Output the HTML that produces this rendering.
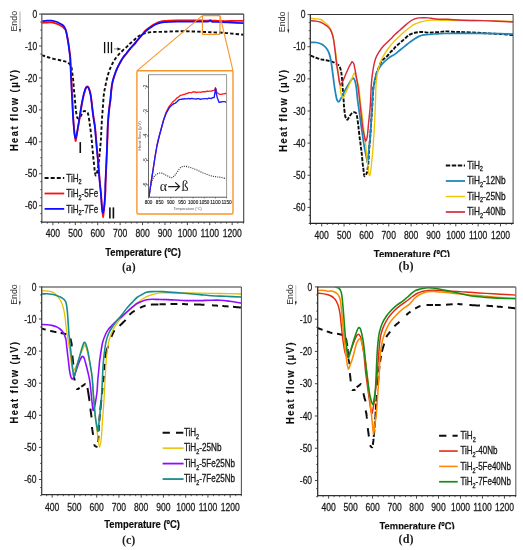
<!DOCTYPE html>
<html><head><meta charset="utf-8"><style>
html,body{margin:0;padding:0;background:#fff;}
svg{display:block;}
</style></head><body>
<svg width="523" height="550" viewBox="0 0 523 550">
<defs><filter id="soft" x="0" y="0" width="100%" height="100%"><feGaussianBlur stdDeviation="0.3"/></filter></defs>
<rect width="523" height="550" fill="#fff"/>
<g filter="url(#soft)">
<clipPath id="pa"><rect x="41.8" y="14.1" width="201.9" height="208"/></clipPath>
<path d="M41.8,55.2C42.72,55.5 45.33,56.4 47.3,57C49.27,57.6 51.48,58.27 53.6,58.8C55.72,59.33 58.27,59.8 60,60.2C61.73,60.6 62.93,60.93 64,61.2C65.07,61.47 65.65,61.5 66.4,61.8C67.15,62.1 67.83,62.47 68.5,63C69.17,63.53 69.9,64.25 70.4,65C70.9,65.75 71.2,66.33 71.5,67.5C71.8,68.67 71.98,70.42 72.2,72C72.42,73.58 72.58,75.13 72.8,77C73.02,78.87 73.3,80.95 73.5,83.2C73.7,85.45 73.83,88.68 74,90.5C74.17,92.32 74.35,92.68 74.5,94.1C74.65,95.52 74.75,97.1 74.9,99C75.05,100.9 75.23,103.67 75.4,105.5C75.57,107.33 75.73,108.58 75.9,110C76.07,111.42 76.18,112.77 76.4,114C76.62,115.23 76.92,116.65 77.2,117.4C77.48,118.15 77.8,118.33 78.1,118.5C78.4,118.67 78.55,118.83 79,118.4C79.45,117.97 80.05,117.07 80.8,115.9C81.55,114.73 82.73,112.18 83.5,111.4C84.27,110.62 84.77,111.1 85.4,111.2C86.03,111.3 86.82,111.37 87.3,112C87.78,112.63 87.93,113.37 88.3,115C88.67,116.63 89.23,120.05 89.5,121.8C89.77,123.55 89.68,123.83 89.9,125.5C90.12,127.17 90.57,129.93 90.8,131.8C91.03,133.67 91.15,135.33 91.3,136.7C91.45,138.07 91.55,138.53 91.7,140C91.85,141.47 92.05,143.83 92.2,145.5C92.35,147.17 92.43,148.18 92.6,150C92.77,151.82 93.03,154.58 93.2,156.4C93.37,158.22 93.45,159.55 93.6,160.9C93.75,162.25 93.95,163.13 94.1,164.5C94.25,165.87 94.35,167.88 94.5,169.1C94.65,170.32 94.82,170.77 95,171.8C95.18,172.83 95.35,174.85 95.6,175.3C95.85,175.75 96.13,175.55 96.5,174.5C96.87,173.45 97.45,170.92 97.8,169C98.15,167.08 98.33,165.17 98.6,163C98.87,160.83 99.17,158.17 99.4,156C99.63,153.83 99.82,151.92 100,150C100.18,148.08 100.35,146.17 100.5,144.5C100.65,142.83 100.8,141.5 100.9,140C101,138.5 101,137.5 101.1,135.5C101.2,133.5 101.37,130.58 101.5,128C101.63,125.42 101.75,122.5 101.9,120C102.05,117.5 102.22,115.42 102.4,113C102.58,110.58 102.8,108.17 103,105.5C103.2,102.83 103.38,99.33 103.6,97C103.82,94.67 103.98,93.42 104.3,91.5C104.62,89.58 105.05,87.67 105.5,85.5C105.95,83.33 106.42,80.82 107,78.5C107.58,76.18 108.27,73.75 109,71.6C109.73,69.45 110.5,67.52 111.4,65.6C112.3,63.68 113.25,61.87 114.4,60.1C115.55,58.33 116.92,56.6 118.3,55C119.68,53.4 121.17,51.98 122.7,50.5C124.23,49.02 126.28,47.25 127.5,46.1C128.72,44.95 128.95,44.55 130,43.6C131.05,42.65 132.53,41.52 133.8,40.4C135.07,39.28 136.32,37.85 137.6,36.9C138.88,35.95 140.22,35.33 141.5,34.7C142.78,34.07 144.03,33.48 145.3,33.1C146.57,32.72 147.83,32.58 149.1,32.4C150.37,32.22 151.62,32.08 152.9,32C154.18,31.92 155.52,31.92 156.8,31.9C158.08,31.88 159.33,31.92 160.6,31.9C161.87,31.88 162.83,31.87 164.4,31.8C165.97,31.73 167.8,31.58 170,31.5C172.2,31.42 175.05,31.33 177.6,31.3C180.15,31.27 182.75,31.27 185.3,31.3C187.85,31.33 190.35,31.43 192.9,31.5C195.45,31.57 198.58,31.62 200.6,31.7C202.62,31.78 203,31.9 205,32C207,32.1 209.42,32.17 212.6,32.3C215.78,32.43 220.9,32.58 224.1,32.8C227.3,33.02 229.25,33.35 231.8,33.6C234.35,33.85 237.42,34.1 239.4,34.3C241.38,34.5 242.98,34.72 243.7,34.8" fill="none" stroke="#111" stroke-width="1.9" stroke-linejoin="round" stroke-dasharray="3.4 2.1" clip-path="url(#pa)"/>
<path d="M41.8,22.9C42.42,22.85 43.98,22.68 45.5,22.6C47.02,22.52 49.23,22.28 50.9,22.4C52.57,22.52 54.13,22.92 55.5,23.3C56.87,23.68 57.97,24.17 59.1,24.7C60.23,25.23 61.47,25.9 62.3,26.5C63.13,27.1 63.51,27.67 64.1,28.3C64.69,28.93 65.41,29.37 65.85,30.3C66.29,31.23 66.45,32.53 66.75,33.9C67.05,35.27 67.35,36.83 67.65,38.5C67.95,40.17 68.25,41.93 68.55,43.9C68.85,45.87 69.15,48.03 69.45,50.3C69.75,52.57 70.13,55.03 70.35,57.5C70.57,59.97 70.64,62.48 70.75,65.1C70.86,67.72 70.88,70.33 71,73.2C71.12,76.07 71.35,79.27 71.5,82.3C71.65,85.33 71.75,88.45 71.9,91.4C72.05,94.35 72.25,97.05 72.4,100C72.55,102.95 72.65,106.07 72.8,109.1C72.95,112.13 73.1,115.17 73.3,118.2C73.5,121.23 73.77,124.58 74,127.3C74.23,130.02 74.43,132.22 74.7,134.5C74.97,136.78 75.3,140.68 75.6,141C75.9,141.32 76.13,138.38 76.5,136.4C76.87,134.42 77.35,131.68 77.8,129.1C78.25,126.52 78.73,123.78 79.2,120.9C79.67,118.02 80.15,114.62 80.6,111.8C81.05,108.98 81.47,106.38 81.9,104C82.33,101.62 82.82,99.3 83.2,97.5C83.58,95.7 83.73,94.83 84.2,93.2C84.67,91.57 85.47,88.83 86,87.7C86.53,86.57 86.95,86.4 87.4,86.4C87.85,86.4 88.17,86.42 88.7,87.7C89.23,88.98 90.1,91.72 90.6,94.1C91.1,96.48 91.38,99.5 91.7,102C92.02,104.5 92.17,106.4 92.5,109.1C92.83,111.8 93.27,115.17 93.7,118.2C94.13,121.23 94.7,123.83 95.1,127.3C95.5,130.77 95.78,135.38 96.1,139C96.42,142.62 96.7,145.8 97,149C97.3,152.2 97.62,155.15 97.9,158.2C98.18,161.25 98.45,164.27 98.7,167.3C98.95,170.33 99.15,173.37 99.4,176.4C99.65,179.43 99.93,182.73 100.2,185.5C100.47,188.27 100.75,190.1 101,193C101.25,195.9 101.47,199.98 101.7,202.9C101.93,205.82 102.17,208.08 102.4,210.5C102.63,212.92 102.85,217.4 103.1,217.4C103.35,217.4 103.63,212.92 103.9,210.5C104.17,208.08 104.45,205.98 104.7,202.9C104.95,199.82 105.27,194.9 105.4,192C105.53,189.1 105.42,188.1 105.5,185.5C105.58,182.9 105.77,179.43 105.9,176.4C106.03,173.37 106.17,170.33 106.3,167.3C106.43,164.27 106.57,161.23 106.7,158.2C106.83,155.17 106.98,152.13 107.1,149.1C107.22,146.07 107.32,142.27 107.4,140C107.48,137.73 107.52,137.77 107.6,135.5C107.68,133.23 107.75,129.43 107.9,126.4C108.05,123.37 108.25,120.33 108.5,117.3C108.75,114.27 109.05,111.23 109.4,108.2C109.75,105.17 110.28,101.97 110.6,99.1C110.92,96.23 110.98,93.75 111.3,91C111.62,88.25 111.98,85.1 112.5,82.6C113.02,80.1 113.68,78.22 114.4,76C115.12,73.78 115.93,71.35 116.8,69.3C117.67,67.25 118.58,65.58 119.6,63.7C120.62,61.82 121.72,59.75 122.9,58C124.08,56.25 125.47,54.77 126.7,53.2C127.93,51.63 129.08,50.03 130.3,48.6C131.52,47.17 132.75,46.03 134,44.6C135.25,43.17 136.52,41.53 137.8,40C139.08,38.47 140.45,36.95 141.7,35.4C142.95,33.85 144.07,32 145.3,30.7C146.53,29.4 147.83,28.55 149.1,27.6C150.37,26.65 151.62,25.77 152.9,25C154.18,24.23 155.52,23.57 156.8,23C158.08,22.43 159.33,21.95 160.6,21.6C161.87,21.25 162.83,21.07 164.4,20.9C165.97,20.73 167.8,20.68 170,20.6C172.2,20.52 175.05,20.43 177.6,20.4C180.15,20.37 182.75,20.4 185.3,20.4C187.85,20.4 190.35,20.4 192.9,20.4C195.45,20.4 198.58,20.35 200.6,20.4C202.62,20.45 203.43,20.68 205,20.7C206.57,20.72 208.67,20.52 210,20.5C211.33,20.48 211.28,20.52 213,20.6C214.72,20.68 217.17,20.93 220.3,21C223.43,21.07 227.9,21.03 231.8,21C235.7,20.97 241.72,20.83 243.7,20.8" fill="none" stroke="#ff0d0d" stroke-width="1.8" stroke-linejoin="round" clip-path="url(#pa)"/>
<path d="M41.8,21.1C42.42,21.05 43.98,20.88 45.5,20.8C47.02,20.72 49.23,20.48 50.9,20.6C52.57,20.72 54.13,21.12 55.5,21.5C56.87,21.88 57.97,22.37 59.1,22.9C60.23,23.43 61.47,24.1 62.3,24.7C63.13,25.3 63.57,25.73 64.1,26.5C64.63,27.27 65.12,28.23 65.5,29.3C65.88,30.37 66.1,31.53 66.4,32.9C66.7,34.27 67,35.83 67.3,37.5C67.6,39.17 67.9,40.93 68.2,42.9C68.5,44.87 68.8,47.03 69.1,49.3C69.4,51.57 69.78,54.03 70,56.5C70.22,58.97 70.27,61.32 70.4,64.1C70.53,66.88 70.65,70.17 70.8,73.2C70.95,76.23 71.15,79.27 71.3,82.3C71.45,85.33 71.55,88.45 71.7,91.4C71.85,94.35 72.05,97.05 72.2,100C72.35,102.95 72.45,106.07 72.6,109.1C72.75,112.13 72.9,115.17 73.1,118.2C73.3,121.23 73.57,124.58 73.8,127.3C74.03,130.02 74.23,132.68 74.5,134.5C74.77,136.32 75.1,137.88 75.4,138.2C75.7,138.52 75.93,137.92 76.3,136.4C76.67,134.88 77.15,131.68 77.6,129.1C78.05,126.52 78.53,123.78 79,120.9C79.47,118.02 79.95,114.62 80.4,111.8C80.85,108.98 81.27,106.38 81.7,104C82.13,101.62 82.62,99.3 83,97.5C83.38,95.7 83.53,94.78 84,93.2C84.47,91.62 85.27,89.05 85.8,88C86.33,86.95 86.75,86.9 87.2,86.9C87.65,86.9 87.97,86.8 88.5,88C89.03,89.2 89.9,91.77 90.4,94.1C90.9,96.43 91.18,99.5 91.5,102C91.82,104.5 91.97,106.4 92.3,109.1C92.63,111.8 93.07,115.17 93.5,118.2C93.93,121.23 94.5,123.83 94.9,127.3C95.3,130.77 95.58,135.38 95.9,139C96.22,142.62 96.5,145.8 96.8,149C97.1,152.2 97.42,155.15 97.7,158.2C97.98,161.25 98.25,164.27 98.5,167.3C98.75,170.33 98.95,173.37 99.2,176.4C99.45,179.43 99.73,182.73 100,185.5C100.27,188.27 100.55,190.1 100.8,193C101.05,195.9 101.27,199.98 101.5,202.9C101.73,205.82 101.97,208.78 102.2,210.5C102.43,212.22 102.65,213.2 102.9,213.2C103.15,213.2 103.43,212.22 103.7,210.5C103.97,208.78 104.25,205.98 104.5,202.9C104.75,199.82 105.07,194.9 105.2,192C105.33,189.1 105.22,188.1 105.3,185.5C105.38,182.9 105.57,179.43 105.7,176.4C105.83,173.37 105.97,170.33 106.1,167.3C106.23,164.27 106.37,161.23 106.5,158.2C106.63,155.17 106.78,152.13 106.9,149.1C107.02,146.07 107.12,142.27 107.2,140C107.28,137.73 107.32,137.77 107.4,135.5C107.48,133.23 107.55,129.43 107.7,126.4C107.85,123.37 108.05,120.33 108.3,117.3C108.55,114.27 108.85,111.23 109.2,108.2C109.55,105.17 110.08,101.97 110.4,99.1C110.72,96.23 110.78,93.75 111.1,91C111.42,88.25 111.78,85.1 112.3,82.6C112.82,80.1 113.48,78.22 114.2,76C114.92,73.78 115.73,71.35 116.6,69.3C117.47,67.25 118.38,65.58 119.4,63.7C120.42,61.82 121.52,59.75 122.7,58C123.88,56.25 125.27,54.77 126.5,53.2C127.73,51.63 128.88,50.03 130.1,48.6C131.32,47.17 132.55,46.03 133.8,44.6C135.05,43.17 136.32,41.53 137.6,40C138.88,38.47 140.22,36.8 141.5,35.4C142.78,34 144.03,32.75 145.3,31.6C146.57,30.45 147.83,29.45 149.1,28.5C150.37,27.55 151.62,26.67 152.9,25.9C154.18,25.13 155.52,24.42 156.8,23.9C158.08,23.38 159.33,23.1 160.6,22.8C161.87,22.5 162.83,22.27 164.4,22.1C165.97,21.93 167.8,21.88 170,21.8C172.2,21.72 175.05,21.63 177.6,21.6C180.15,21.57 182.75,21.6 185.3,21.6C187.85,21.6 190.35,21.6 192.9,21.6C195.45,21.6 198.58,21.58 200.6,21.6C202.62,21.62 203.63,21.75 205,21.7C206.37,21.65 207.9,21.52 208.8,21.3C209.7,21.08 209.82,20.32 210.4,20.4C210.98,20.48 210.65,21.52 212.3,21.8C213.95,22.08 217.05,21.97 220.3,22.1C223.55,22.23 227.9,22.43 231.8,22.6C235.7,22.77 241.72,23.02 243.7,23.1" fill="none" stroke="#1010ff" stroke-width="1.7" stroke-linejoin="round" clip-path="url(#pa)"/>
<line x1="41.8" y1="14.1" x2="243.7" y2="14.1" stroke="#6c6c6c" stroke-width="1.6"/>
<line x1="243.7" y1="14.1" x2="243.7" y2="222.1" stroke="#444" stroke-width="1.1"/>
<line x1="41.8" y1="13.6" x2="41.8" y2="222.6" stroke="#777" stroke-width="1.5"/>
<line x1="41.3" y1="222.1" x2="244.2" y2="222.1" stroke="#333" stroke-width="1.1"/>
<line x1="39" y1="14.1" x2="41.8" y2="14.1" stroke="#333" stroke-width="0.9"/>
<line x1="40.2" y1="22.08" x2="41.8" y2="22.08" stroke="#333" stroke-width="0.8"/>
<line x1="40.2" y1="30.06" x2="41.8" y2="30.06" stroke="#333" stroke-width="0.8"/>
<line x1="40.2" y1="38.05" x2="41.8" y2="38.05" stroke="#333" stroke-width="0.8"/>
<line x1="39" y1="46.03" x2="41.8" y2="46.03" stroke="#333" stroke-width="0.9"/>
<line x1="40.2" y1="54.01" x2="41.8" y2="54.01" stroke="#333" stroke-width="0.8"/>
<line x1="40.2" y1="62" x2="41.8" y2="62" stroke="#333" stroke-width="0.8"/>
<line x1="40.2" y1="69.98" x2="41.8" y2="69.98" stroke="#333" stroke-width="0.8"/>
<line x1="39" y1="77.96" x2="41.8" y2="77.96" stroke="#333" stroke-width="0.9"/>
<line x1="40.2" y1="85.94" x2="41.8" y2="85.94" stroke="#333" stroke-width="0.8"/>
<line x1="40.2" y1="93.92" x2="41.8" y2="93.92" stroke="#333" stroke-width="0.8"/>
<line x1="40.2" y1="101.91" x2="41.8" y2="101.91" stroke="#333" stroke-width="0.8"/>
<line x1="39" y1="109.89" x2="41.8" y2="109.89" stroke="#333" stroke-width="0.9"/>
<line x1="40.2" y1="117.87" x2="41.8" y2="117.87" stroke="#333" stroke-width="0.8"/>
<line x1="40.2" y1="125.85" x2="41.8" y2="125.85" stroke="#333" stroke-width="0.8"/>
<line x1="40.2" y1="133.84" x2="41.8" y2="133.84" stroke="#333" stroke-width="0.8"/>
<line x1="39" y1="141.82" x2="41.8" y2="141.82" stroke="#333" stroke-width="0.9"/>
<line x1="40.2" y1="149.8" x2="41.8" y2="149.8" stroke="#333" stroke-width="0.8"/>
<line x1="40.2" y1="157.78" x2="41.8" y2="157.78" stroke="#333" stroke-width="0.8"/>
<line x1="40.2" y1="165.77" x2="41.8" y2="165.77" stroke="#333" stroke-width="0.8"/>
<line x1="39" y1="173.75" x2="41.8" y2="173.75" stroke="#333" stroke-width="0.9"/>
<line x1="40.2" y1="181.73" x2="41.8" y2="181.73" stroke="#333" stroke-width="0.8"/>
<line x1="40.2" y1="189.72" x2="41.8" y2="189.72" stroke="#333" stroke-width="0.8"/>
<line x1="40.2" y1="197.7" x2="41.8" y2="197.7" stroke="#333" stroke-width="0.8"/>
<line x1="39" y1="205.68" x2="41.8" y2="205.68" stroke="#333" stroke-width="0.9"/>
<line x1="40.2" y1="213.66" x2="41.8" y2="213.66" stroke="#333" stroke-width="0.8"/>
<line x1="40.2" y1="221.65" x2="41.8" y2="221.65" stroke="#333" stroke-width="0.8"/>
<text transform="translate(37.2,17.7) scale(0.85,1)" font-family="Liberation Sans" font-size="10" font-weight="normal" text-anchor="end" fill="#1a1a1a" stroke="#1a1a1a" stroke-width="0.26">0</text>
<text transform="translate(37.2,49.63) scale(0.85,1)" font-family="Liberation Sans" font-size="10" font-weight="normal" text-anchor="end" fill="#1a1a1a" stroke="#1a1a1a" stroke-width="0.26">-10</text>
<text transform="translate(37.2,81.56) scale(0.85,1)" font-family="Liberation Sans" font-size="10" font-weight="normal" text-anchor="end" fill="#1a1a1a" stroke="#1a1a1a" stroke-width="0.26">-20</text>
<text transform="translate(37.2,113.49) scale(0.85,1)" font-family="Liberation Sans" font-size="10" font-weight="normal" text-anchor="end" fill="#1a1a1a" stroke="#1a1a1a" stroke-width="0.26">-30</text>
<text transform="translate(37.2,145.42) scale(0.85,1)" font-family="Liberation Sans" font-size="10" font-weight="normal" text-anchor="end" fill="#1a1a1a" stroke="#1a1a1a" stroke-width="0.26">-40</text>
<text transform="translate(37.2,177.35) scale(0.85,1)" font-family="Liberation Sans" font-size="10" font-weight="normal" text-anchor="end" fill="#1a1a1a" stroke="#1a1a1a" stroke-width="0.26">-50</text>
<text transform="translate(37.2,209.28) scale(0.85,1)" font-family="Liberation Sans" font-size="10" font-weight="normal" text-anchor="end" fill="#1a1a1a" stroke="#1a1a1a" stroke-width="0.26">-60</text>
<line x1="41.7" y1="222.1" x2="41.7" y2="223.7" stroke="#333" stroke-width="0.8"/>
<line x1="47.3" y1="222.1" x2="47.3" y2="223.7" stroke="#333" stroke-width="0.8"/>
<line x1="52.9" y1="222.1" x2="52.9" y2="225.1" stroke="#333" stroke-width="0.9"/>
<line x1="58.5" y1="222.1" x2="58.5" y2="223.7" stroke="#333" stroke-width="0.8"/>
<line x1="64.11" y1="222.1" x2="64.11" y2="223.7" stroke="#333" stroke-width="0.8"/>
<line x1="69.71" y1="222.1" x2="69.71" y2="223.7" stroke="#333" stroke-width="0.8"/>
<line x1="75.31" y1="222.1" x2="75.31" y2="225.1" stroke="#333" stroke-width="0.9"/>
<line x1="80.91" y1="222.1" x2="80.91" y2="223.7" stroke="#333" stroke-width="0.8"/>
<line x1="86.52" y1="222.1" x2="86.52" y2="223.7" stroke="#333" stroke-width="0.8"/>
<line x1="92.12" y1="222.1" x2="92.12" y2="223.7" stroke="#333" stroke-width="0.8"/>
<line x1="97.72" y1="222.1" x2="97.72" y2="225.1" stroke="#333" stroke-width="0.9"/>
<line x1="103.32" y1="222.1" x2="103.32" y2="223.7" stroke="#333" stroke-width="0.8"/>
<line x1="108.92" y1="222.1" x2="108.92" y2="223.7" stroke="#333" stroke-width="0.8"/>
<line x1="114.53" y1="222.1" x2="114.53" y2="223.7" stroke="#333" stroke-width="0.8"/>
<line x1="120.13" y1="222.1" x2="120.13" y2="225.1" stroke="#333" stroke-width="0.9"/>
<line x1="125.73" y1="222.1" x2="125.73" y2="223.7" stroke="#333" stroke-width="0.8"/>
<line x1="131.34" y1="222.1" x2="131.34" y2="223.7" stroke="#333" stroke-width="0.8"/>
<line x1="136.94" y1="222.1" x2="136.94" y2="223.7" stroke="#333" stroke-width="0.8"/>
<line x1="142.54" y1="222.1" x2="142.54" y2="225.1" stroke="#333" stroke-width="0.9"/>
<line x1="148.14" y1="222.1" x2="148.14" y2="223.7" stroke="#333" stroke-width="0.8"/>
<line x1="153.75" y1="222.1" x2="153.75" y2="223.7" stroke="#333" stroke-width="0.8"/>
<line x1="159.35" y1="222.1" x2="159.35" y2="223.7" stroke="#333" stroke-width="0.8"/>
<line x1="164.95" y1="222.1" x2="164.95" y2="225.1" stroke="#333" stroke-width="0.9"/>
<line x1="170.55" y1="222.1" x2="170.55" y2="223.7" stroke="#333" stroke-width="0.8"/>
<line x1="176.16" y1="222.1" x2="176.16" y2="223.7" stroke="#333" stroke-width="0.8"/>
<line x1="181.76" y1="222.1" x2="181.76" y2="223.7" stroke="#333" stroke-width="0.8"/>
<line x1="187.36" y1="222.1" x2="187.36" y2="225.1" stroke="#333" stroke-width="0.9"/>
<line x1="192.96" y1="222.1" x2="192.96" y2="223.7" stroke="#333" stroke-width="0.8"/>
<line x1="198.56" y1="222.1" x2="198.56" y2="223.7" stroke="#333" stroke-width="0.8"/>
<line x1="204.17" y1="222.1" x2="204.17" y2="223.7" stroke="#333" stroke-width="0.8"/>
<line x1="209.77" y1="222.1" x2="209.77" y2="225.1" stroke="#333" stroke-width="0.9"/>
<line x1="215.37" y1="222.1" x2="215.37" y2="223.7" stroke="#333" stroke-width="0.8"/>
<line x1="220.97" y1="222.1" x2="220.97" y2="223.7" stroke="#333" stroke-width="0.8"/>
<line x1="226.58" y1="222.1" x2="226.58" y2="223.7" stroke="#333" stroke-width="0.8"/>
<line x1="232.18" y1="222.1" x2="232.18" y2="225.1" stroke="#333" stroke-width="0.9"/>
<line x1="237.78" y1="222.1" x2="237.78" y2="223.7" stroke="#333" stroke-width="0.8"/>
<line x1="243.38" y1="222.1" x2="243.38" y2="223.7" stroke="#333" stroke-width="0.8"/>
<text transform="translate(52.9,236.7) scale(0.86,1)" font-family="Liberation Sans" font-size="10" font-weight="normal" text-anchor="middle" fill="#1a1a1a" stroke="#1a1a1a" stroke-width="0.26">400</text>
<text transform="translate(75.31,236.7) scale(0.86,1)" font-family="Liberation Sans" font-size="10" font-weight="normal" text-anchor="middle" fill="#1a1a1a" stroke="#1a1a1a" stroke-width="0.26">500</text>
<text transform="translate(97.72,236.7) scale(0.86,1)" font-family="Liberation Sans" font-size="10" font-weight="normal" text-anchor="middle" fill="#1a1a1a" stroke="#1a1a1a" stroke-width="0.26">600</text>
<text transform="translate(120.13,236.7) scale(0.86,1)" font-family="Liberation Sans" font-size="10" font-weight="normal" text-anchor="middle" fill="#1a1a1a" stroke="#1a1a1a" stroke-width="0.26">700</text>
<text transform="translate(142.54,236.7) scale(0.86,1)" font-family="Liberation Sans" font-size="10" font-weight="normal" text-anchor="middle" fill="#1a1a1a" stroke="#1a1a1a" stroke-width="0.26">800</text>
<text transform="translate(164.95,236.7) scale(0.86,1)" font-family="Liberation Sans" font-size="10" font-weight="normal" text-anchor="middle" fill="#1a1a1a" stroke="#1a1a1a" stroke-width="0.26">900</text>
<text transform="translate(187.36,236.7) scale(0.86,1)" font-family="Liberation Sans" font-size="10" font-weight="normal" text-anchor="middle" fill="#1a1a1a" stroke="#1a1a1a" stroke-width="0.26">1000</text>
<text transform="translate(209.77,236.7) scale(0.86,1)" font-family="Liberation Sans" font-size="10" font-weight="normal" text-anchor="middle" fill="#1a1a1a" stroke="#1a1a1a" stroke-width="0.26">1100</text>
<text transform="translate(232.18,236.7) scale(0.86,1)" font-family="Liberation Sans" font-size="10" font-weight="normal" text-anchor="middle" fill="#1a1a1a" stroke="#1a1a1a" stroke-width="0.26">1200</text>
<clipPath id="pb"><rect x="310.3" y="14.5" width="202.8" height="208.9"/></clipPath>
<path d="M310.7,55.6C311.47,55.92 313.63,56.88 315.3,57.5C316.97,58.12 318.88,58.85 320.7,59.3C322.52,59.75 324.23,59.78 326.2,60.2C328.17,60.62 331,61.3 332.5,61.8C334,62.3 334.37,62.75 335.2,63.2C336.03,63.65 336.77,63.95 337.5,64.5C338.23,65.05 339,65.33 339.6,66.5C340.2,67.67 340.68,69.33 341.1,71.5C341.52,73.67 341.82,76.5 342.1,79.5C342.38,82.5 342.58,86.75 342.8,89.5C343.02,92.25 343.23,93.8 343.4,96C343.57,98.2 343.68,100.82 343.8,102.7C343.92,104.58 343.95,105.67 344.1,107.3C344.25,108.93 344.5,110.98 344.7,112.5C344.9,114.02 345,115.32 345.3,116.4C345.6,117.48 346.1,118.48 346.5,119C346.9,119.52 347.2,119.93 347.7,119.5C348.2,119.07 348.73,117.53 349.5,116.4C350.27,115.27 351.47,113.38 352.3,112.7C353.13,112.02 353.83,112.18 354.5,112.3C355.17,112.42 355.83,112.42 356.3,113.4C356.77,114.38 356.98,116.35 357.3,118.2C357.62,120.05 357.98,122.83 358.2,124.5C358.42,126.17 358.38,126.22 358.6,128.2C358.82,130.18 359.2,133.93 359.5,136.4C359.8,138.87 360.12,140.83 360.4,143C360.68,145.17 360.95,147.4 361.2,149.4C361.45,151.4 361.67,152.73 361.9,155C362.13,157.27 362.35,160.67 362.6,163C362.85,165.33 363.17,167.17 363.4,169C363.63,170.83 363.8,172.78 364,174C364.2,175.22 364.22,176.27 364.6,176.3C364.98,176.33 365.83,175.17 366.3,174.2C366.77,173.23 367.05,172.57 367.4,170.5C367.75,168.43 368.12,165.22 368.4,161.8C368.68,158.38 368.8,154.13 369.1,150C369.4,145.87 369.83,142 370.2,137C370.57,132 370.93,125.5 371.3,120C371.67,114.5 372.07,109.3 372.4,104C372.73,98.7 372.77,92.4 373.3,88.2C373.83,84 375.02,81.37 375.6,78.8C376.18,76.23 376.3,74.58 376.8,72.8C377.3,71.02 378,69.67 378.6,68.1C379.2,66.53 379.72,64.78 380.4,63.4C381.08,62.02 381.82,60.78 382.7,59.8C383.58,58.82 384.72,58.38 385.7,57.5C386.68,56.62 387.72,55.48 388.6,54.5C389.48,53.52 390.2,52.38 391,51.6C391.8,50.82 392.73,50.5 393.4,49.8C394.07,49.1 393.93,48.52 395,47.4C396.07,46.28 398.2,44.53 399.8,43.1C401.4,41.67 403.02,40.17 404.6,38.8C406.18,37.43 407.72,35.87 409.3,34.9C410.88,33.93 412.5,33.47 414.1,33C415.7,32.53 417.3,32.25 418.9,32.1C420.5,31.95 422.1,32.02 423.7,32.1C425.3,32.18 426.92,32.55 428.5,32.6C430.08,32.65 431.62,32.48 433.2,32.4C434.78,32.32 436.4,32.23 438,32.1C439.6,31.97 441.38,31.72 442.8,31.6C444.22,31.48 444.3,31.33 446.5,31.4C448.7,31.47 453.25,31.88 456,32C458.75,32.12 459.67,32 463,32.1C466.33,32.2 472.17,32.4 476,32.6C479.83,32.8 482,33.07 486,33.3C490,33.53 495.48,33.72 500,34C504.52,34.28 510.92,34.83 513.1,35" fill="none" stroke="#111" stroke-width="1.9" stroke-linejoin="round" stroke-dasharray="3.8 1.5" clip-path="url(#pb)"/>
<path d="M310.7,42.5C311.62,42.5 314.53,42.28 316.2,42.5C317.87,42.72 319.33,43.2 320.7,43.8C322.07,44.4 323.33,45.18 324.4,46.1C325.47,47.02 326.35,48.17 327.1,49.3C327.85,50.43 328.37,51.53 328.9,52.9C329.43,54.27 329.92,55.98 330.3,57.5C330.68,59.02 330.8,59.38 331.2,62C331.6,64.62 332.15,69.07 332.7,73.2C333.25,77.33 333.88,82.72 334.5,86.8C335.12,90.88 335.9,95.37 336.4,97.7C336.9,100.03 337.13,100.12 337.5,100.8C337.87,101.48 338.22,101.83 338.6,101.8C338.98,101.77 339.42,101.13 339.8,100.6C340.18,100.07 340.12,100.13 340.9,98.6C341.68,97.07 343.28,93.67 344.5,91.4C345.72,89.13 347.13,86.82 348.2,85C349.27,83.18 350.07,81.65 350.9,80.5C351.73,79.35 352.57,78.17 353.2,78.1C353.83,78.03 354.3,79.18 354.7,80.1C355.1,81.02 355.32,82.25 355.6,83.6C355.88,84.95 356.07,85.47 356.4,88.2C356.73,90.93 357.17,96.37 357.6,100C358.03,103.63 358.58,107 359,110C359.42,113 359.72,115.17 360.1,118C360.48,120.83 360.87,123.93 361.3,127C361.73,130.07 362.18,133.02 362.7,136.4C363.22,139.78 363.87,144.28 364.4,147.3C364.93,150.32 365.47,152.33 365.9,154.5C366.33,156.67 366.73,158.97 367,160.3C367.27,161.63 367.32,162.85 367.5,162.5C367.68,162.15 367.85,160.62 368.1,158.2C368.35,155.78 368.65,151.53 369,148C369.35,144.47 369.82,141.67 370.2,137C370.58,132.33 370.93,126.17 371.3,120C371.67,113.83 371.97,105.88 372.4,100C372.83,94.12 373.27,89.03 373.9,84.7C374.53,80.37 375.32,76.77 376.2,74C377.08,71.23 378.12,69.87 379.2,68.1C380.28,66.33 381.13,65.07 382.7,63.4C384.27,61.73 386.55,59.65 388.6,58.1C390.65,56.55 393.13,55.42 395,54.1C396.87,52.78 398.2,51.48 399.8,50.2C401.4,48.92 403.02,47.67 404.6,46.4C406.18,45.13 407.72,43.8 409.3,42.6C410.88,41.4 412.5,40.23 414.1,39.2C415.7,38.17 417.3,37.12 418.9,36.4C420.5,35.68 422.1,35.22 423.7,34.9C425.3,34.58 426.92,34.65 428.5,34.5C430.08,34.35 431.62,34.12 433.2,34C434.78,33.88 436.03,33.88 438,33.8C439.97,33.72 440.83,33.58 445,33.5C449.17,33.42 456.17,33.33 463,33.3C469.83,33.27 479.83,33.23 486,33.3C492.17,33.37 495.48,33.55 500,33.7C504.52,33.85 510.92,34.12 513.1,34.2" fill="none" stroke="#1f87bd" stroke-width="1.75" stroke-linejoin="round" clip-path="url(#pb)"/>
<path d="M310.7,18.4C311.62,18.47 314.53,18.62 316.2,18.8C317.87,18.98 319.33,18.97 320.7,19.5C322.07,20.03 323.27,21.13 324.4,22C325.53,22.87 326.6,23.78 327.5,24.7C328.4,25.62 329.12,26.37 329.8,27.5C330.48,28.63 331.05,30 331.6,31.5C332.15,33 332.67,34.58 333.1,36.5C333.53,38.42 333.83,40.72 334.2,43C334.57,45.28 334.9,47.48 335.3,50.2C335.7,52.92 336.22,56.23 336.6,59.3C336.98,62.37 337.25,65.82 337.6,68.6C337.95,71.38 338.38,73.72 338.7,76C339.02,78.28 339.23,80.22 339.5,82.3C339.77,84.38 340.07,86.68 340.3,88.5C340.53,90.32 340.65,91.87 340.9,93.2C341.15,94.53 341.5,95.75 341.8,96.5C342.1,97.25 342.33,97.78 342.7,97.7C343.07,97.62 343.53,96.75 344,96C344.47,95.25 344.65,95.03 345.5,93.2C346.35,91.37 347.9,87.77 349.1,85C350.3,82.23 351.82,78.63 352.7,76.6C353.58,74.57 353.92,72.9 354.4,72.8C354.88,72.7 355.22,74.88 355.6,76C355.98,77.12 356.32,78.23 356.7,79.5C357.08,80.77 357.52,82.15 357.9,83.6C358.28,85.05 358.62,85.47 359,88.2C359.38,90.93 359.8,96.37 360.2,100C360.6,103.63 361.02,107 361.4,110C361.78,113 362.15,115.12 362.5,118C362.85,120.88 363.15,124.13 363.5,127.3C363.85,130.47 364.28,134.52 364.6,137C364.92,139.48 365.13,139.87 365.4,142.2C365.67,144.53 365.87,147.73 366.2,151C366.53,154.27 367.03,158.55 367.4,161.8C367.77,165.05 368.05,168.2 368.4,170.5C368.75,172.8 369.13,175.35 369.5,175.6C369.87,175.85 370.23,174.3 370.6,172C370.97,169.7 371.33,165.32 371.7,161.8C372.07,158.28 372.5,154.53 372.8,150.9C373.1,147.27 373.28,143.18 373.5,140C373.72,136.82 373.85,136.2 374.1,131.8C374.35,127.4 374.77,118.9 375,113.6C375.23,108.3 375.3,105.22 375.5,100C375.7,94.78 375.78,87.22 376.2,82.3C376.62,77.38 377.3,73.85 378,70.5C378.7,67.15 379.42,64.77 380.4,62.2C381.38,59.63 382.53,57.47 383.9,55.1C385.27,52.73 386.82,50.37 388.6,48C390.38,45.63 392.73,42.92 394.6,40.9C396.47,38.88 398.13,37.45 399.8,35.9C401.47,34.35 403.02,32.95 404.6,31.6C406.18,30.25 407.72,29 409.3,27.8C410.88,26.6 412.5,25.28 414.1,24.4C415.7,23.52 417.3,23.02 418.9,22.5C420.5,21.98 422.1,21.65 423.7,21.3C425.3,20.95 426.92,20.6 428.5,20.4C430.08,20.2 431.62,20.15 433.2,20.1C434.78,20.05 436.03,20.05 438,20.1C439.97,20.15 440.83,20.33 445,20.4C449.17,20.47 456.57,20.47 463,20.5C469.43,20.53 477.87,20.52 483.6,20.6C489.33,20.68 492.48,20.85 497.4,21C502.32,21.15 510.48,21.42 513.1,21.5" fill="none" stroke="#eec400" stroke-width="1.35" stroke-linejoin="round" clip-path="url(#pb)"/>
<path d="M310.7,20.6C311.62,20.68 314.53,20.83 316.2,21.1C317.87,21.37 319.33,21.67 320.7,22.2C322.07,22.73 323.27,23.58 324.4,24.3C325.53,25.02 326.52,25.6 327.5,26.5C328.48,27.4 329.53,28.48 330.3,29.7C331.07,30.92 331.57,32.2 332.1,33.8C332.63,35.4 333.12,37.33 333.5,39.3C333.88,41.27 334.1,43.33 334.4,45.6C334.7,47.87 335,50.32 335.3,52.9C335.6,55.48 335.87,58.48 336.2,61.1C336.53,63.72 336.95,66.28 337.3,68.6C337.65,70.92 338,73.02 338.3,75C338.6,76.98 338.85,79.08 339.1,80.5C339.35,81.92 339.57,82.75 339.8,83.5C340.03,84.25 340.25,84.88 340.5,85C340.75,85.12 341,84.65 341.3,84.2C341.6,83.75 341.6,83.83 342.3,82.3C343,80.77 344.37,77.58 345.5,75C346.63,72.42 348.18,68.72 349.1,66.8C350.02,64.88 350.5,64.33 351,63.5C351.5,62.67 351.63,61.75 352.1,61.8C352.57,61.85 353.37,62.78 353.8,63.8C354.23,64.82 354.4,66.45 354.7,67.9C355,69.35 355.32,70.95 355.6,72.5C355.88,74.05 356.12,75.55 356.4,77.2C356.68,78.85 357,80.57 357.3,82.4C357.6,84.23 357.82,85.27 358.2,88.2C358.58,91.13 359.18,96.37 359.6,100C360.02,103.63 360.38,107 360.7,110C361.02,113 361.18,115.17 361.5,118C361.82,120.83 362.18,124.25 362.6,127C363.02,129.75 363.6,132.5 364,134.5C364.4,136.5 364.7,137.92 365,139C365.3,140.08 365.42,141.43 365.8,141C366.18,140.57 366.83,139.45 367.3,136.4C367.77,133.35 368.15,127.25 368.6,122.7C369.05,118.15 369.67,112.88 370,109.1C370.33,105.32 370.35,104.47 370.6,100C370.85,95.53 371.05,87.62 371.5,82.3C371.95,76.98 372.62,72.05 373.3,68.1C373.98,64.15 374.62,61.35 375.6,58.6C376.58,55.85 377.82,53.77 379.2,51.6C380.58,49.43 382.33,47.38 383.9,45.6C385.47,43.82 387.25,42.22 388.6,40.9C389.95,39.58 390.93,38.77 392,37.7C393.07,36.63 393.7,35.75 395,34.5C396.3,33.25 398.2,31.63 399.8,30.2C401.4,28.77 403.02,27.27 404.6,25.9C406.18,24.53 407.72,23.12 409.3,22C410.88,20.88 412.5,19.88 414.1,19.2C415.7,18.52 417.3,18.15 418.9,17.9C420.5,17.65 422.1,17.7 423.7,17.7C425.3,17.7 426.92,17.73 428.5,17.9C430.08,18.07 431.62,18.48 433.2,18.7C434.78,18.92 436.03,19.12 438,19.2C439.97,19.28 442.95,19.15 445,19.2C447.05,19.25 447.3,19.32 450.3,19.5C453.3,19.68 457.45,20.12 463,20.3C468.55,20.48 477.87,20.45 483.6,20.6C489.33,20.75 492.48,20.97 497.4,21.2C502.32,21.43 510.48,21.87 513.1,22" fill="none" stroke="#d62a3c" stroke-width="1.45" stroke-linejoin="round" clip-path="url(#pb)"/>
<line x1="310.3" y1="14.5" x2="513.1" y2="14.5" stroke="#333" stroke-width="1"/>
<line x1="513.1" y1="14.5" x2="513.1" y2="223.4" stroke="#444" stroke-width="1"/>
<line x1="310.3" y1="14" x2="310.3" y2="223.9" stroke="#222" stroke-width="1.2"/>
<line x1="309.8" y1="223.4" x2="513.6" y2="223.4" stroke="#222" stroke-width="1.1"/>
<line x1="307.5" y1="14.6" x2="310.3" y2="14.6" stroke="#333" stroke-width="0.9"/>
<line x1="308.7" y1="22.63" x2="310.3" y2="22.63" stroke="#333" stroke-width="0.8"/>
<line x1="308.7" y1="30.66" x2="310.3" y2="30.66" stroke="#333" stroke-width="0.8"/>
<line x1="308.7" y1="38.7" x2="310.3" y2="38.7" stroke="#333" stroke-width="0.8"/>
<line x1="307.5" y1="46.73" x2="310.3" y2="46.73" stroke="#333" stroke-width="0.9"/>
<line x1="308.7" y1="54.76" x2="310.3" y2="54.76" stroke="#333" stroke-width="0.8"/>
<line x1="308.7" y1="62.8" x2="310.3" y2="62.8" stroke="#333" stroke-width="0.8"/>
<line x1="308.7" y1="70.83" x2="310.3" y2="70.83" stroke="#333" stroke-width="0.8"/>
<line x1="307.5" y1="78.86" x2="310.3" y2="78.86" stroke="#333" stroke-width="0.9"/>
<line x1="308.7" y1="86.89" x2="310.3" y2="86.89" stroke="#333" stroke-width="0.8"/>
<line x1="308.7" y1="94.92" x2="310.3" y2="94.92" stroke="#333" stroke-width="0.8"/>
<line x1="308.7" y1="102.96" x2="310.3" y2="102.96" stroke="#333" stroke-width="0.8"/>
<line x1="307.5" y1="110.99" x2="310.3" y2="110.99" stroke="#333" stroke-width="0.9"/>
<line x1="308.7" y1="119.02" x2="310.3" y2="119.02" stroke="#333" stroke-width="0.8"/>
<line x1="308.7" y1="127.05" x2="310.3" y2="127.05" stroke="#333" stroke-width="0.8"/>
<line x1="308.7" y1="135.09" x2="310.3" y2="135.09" stroke="#333" stroke-width="0.8"/>
<line x1="307.5" y1="143.12" x2="310.3" y2="143.12" stroke="#333" stroke-width="0.9"/>
<line x1="308.7" y1="151.15" x2="310.3" y2="151.15" stroke="#333" stroke-width="0.8"/>
<line x1="308.7" y1="159.19" x2="310.3" y2="159.19" stroke="#333" stroke-width="0.8"/>
<line x1="308.7" y1="167.22" x2="310.3" y2="167.22" stroke="#333" stroke-width="0.8"/>
<line x1="307.5" y1="175.25" x2="310.3" y2="175.25" stroke="#333" stroke-width="0.9"/>
<line x1="308.7" y1="183.28" x2="310.3" y2="183.28" stroke="#333" stroke-width="0.8"/>
<line x1="308.7" y1="191.31" x2="310.3" y2="191.31" stroke="#333" stroke-width="0.8"/>
<line x1="308.7" y1="199.35" x2="310.3" y2="199.35" stroke="#333" stroke-width="0.8"/>
<line x1="307.5" y1="207.38" x2="310.3" y2="207.38" stroke="#333" stroke-width="0.9"/>
<line x1="308.7" y1="215.41" x2="310.3" y2="215.41" stroke="#333" stroke-width="0.8"/>
<line x1="308.7" y1="223.44" x2="310.3" y2="223.44" stroke="#333" stroke-width="0.8"/>
<text transform="translate(305.5,18.2) scale(0.85,1)" font-family="Liberation Sans" font-size="10" font-weight="normal" text-anchor="end" fill="#1a1a1a" stroke="#1a1a1a" stroke-width="0.26">0</text>
<text transform="translate(305.5,50.33) scale(0.85,1)" font-family="Liberation Sans" font-size="10" font-weight="normal" text-anchor="end" fill="#1a1a1a" stroke="#1a1a1a" stroke-width="0.26">-10</text>
<text transform="translate(305.5,82.46) scale(0.85,1)" font-family="Liberation Sans" font-size="10" font-weight="normal" text-anchor="end" fill="#1a1a1a" stroke="#1a1a1a" stroke-width="0.26">-20</text>
<text transform="translate(305.5,114.59) scale(0.85,1)" font-family="Liberation Sans" font-size="10" font-weight="normal" text-anchor="end" fill="#1a1a1a" stroke="#1a1a1a" stroke-width="0.26">-30</text>
<text transform="translate(305.5,146.72) scale(0.85,1)" font-family="Liberation Sans" font-size="10" font-weight="normal" text-anchor="end" fill="#1a1a1a" stroke="#1a1a1a" stroke-width="0.26">-40</text>
<text transform="translate(305.5,178.85) scale(0.85,1)" font-family="Liberation Sans" font-size="10" font-weight="normal" text-anchor="end" fill="#1a1a1a" stroke="#1a1a1a" stroke-width="0.26">-50</text>
<text transform="translate(305.5,210.98) scale(0.85,1)" font-family="Liberation Sans" font-size="10" font-weight="normal" text-anchor="end" fill="#1a1a1a" stroke="#1a1a1a" stroke-width="0.26">-60</text>
<line x1="310.52" y1="223.4" x2="310.52" y2="225" stroke="#333" stroke-width="0.8"/>
<line x1="316.11" y1="223.4" x2="316.11" y2="225" stroke="#333" stroke-width="0.8"/>
<line x1="321.7" y1="223.4" x2="321.7" y2="226.4" stroke="#333" stroke-width="0.9"/>
<line x1="327.29" y1="223.4" x2="327.29" y2="225" stroke="#333" stroke-width="0.8"/>
<line x1="332.88" y1="223.4" x2="332.88" y2="225" stroke="#333" stroke-width="0.8"/>
<line x1="338.46" y1="223.4" x2="338.46" y2="225" stroke="#333" stroke-width="0.8"/>
<line x1="344.05" y1="223.4" x2="344.05" y2="226.4" stroke="#333" stroke-width="0.9"/>
<line x1="349.64" y1="223.4" x2="349.64" y2="225" stroke="#333" stroke-width="0.8"/>
<line x1="355.22" y1="223.4" x2="355.22" y2="225" stroke="#333" stroke-width="0.8"/>
<line x1="360.81" y1="223.4" x2="360.81" y2="225" stroke="#333" stroke-width="0.8"/>
<line x1="366.4" y1="223.4" x2="366.4" y2="226.4" stroke="#333" stroke-width="0.9"/>
<line x1="371.99" y1="223.4" x2="371.99" y2="225" stroke="#333" stroke-width="0.8"/>
<line x1="377.57" y1="223.4" x2="377.57" y2="225" stroke="#333" stroke-width="0.8"/>
<line x1="383.16" y1="223.4" x2="383.16" y2="225" stroke="#333" stroke-width="0.8"/>
<line x1="388.75" y1="223.4" x2="388.75" y2="226.4" stroke="#333" stroke-width="0.9"/>
<line x1="394.34" y1="223.4" x2="394.34" y2="225" stroke="#333" stroke-width="0.8"/>
<line x1="399.93" y1="223.4" x2="399.93" y2="225" stroke="#333" stroke-width="0.8"/>
<line x1="405.51" y1="223.4" x2="405.51" y2="225" stroke="#333" stroke-width="0.8"/>
<line x1="411.1" y1="223.4" x2="411.1" y2="226.4" stroke="#333" stroke-width="0.9"/>
<line x1="416.69" y1="223.4" x2="416.69" y2="225" stroke="#333" stroke-width="0.8"/>
<line x1="422.27" y1="223.4" x2="422.27" y2="225" stroke="#333" stroke-width="0.8"/>
<line x1="427.86" y1="223.4" x2="427.86" y2="225" stroke="#333" stroke-width="0.8"/>
<line x1="433.45" y1="223.4" x2="433.45" y2="226.4" stroke="#333" stroke-width="0.9"/>
<line x1="439.04" y1="223.4" x2="439.04" y2="225" stroke="#333" stroke-width="0.8"/>
<line x1="444.62" y1="223.4" x2="444.62" y2="225" stroke="#333" stroke-width="0.8"/>
<line x1="450.21" y1="223.4" x2="450.21" y2="225" stroke="#333" stroke-width="0.8"/>
<line x1="455.8" y1="223.4" x2="455.8" y2="226.4" stroke="#333" stroke-width="0.9"/>
<line x1="461.39" y1="223.4" x2="461.39" y2="225" stroke="#333" stroke-width="0.8"/>
<line x1="466.98" y1="223.4" x2="466.98" y2="225" stroke="#333" stroke-width="0.8"/>
<line x1="472.56" y1="223.4" x2="472.56" y2="225" stroke="#333" stroke-width="0.8"/>
<line x1="478.15" y1="223.4" x2="478.15" y2="226.4" stroke="#333" stroke-width="0.9"/>
<line x1="483.74" y1="223.4" x2="483.74" y2="225" stroke="#333" stroke-width="0.8"/>
<line x1="489.32" y1="223.4" x2="489.32" y2="225" stroke="#333" stroke-width="0.8"/>
<line x1="494.91" y1="223.4" x2="494.91" y2="225" stroke="#333" stroke-width="0.8"/>
<line x1="500.5" y1="223.4" x2="500.5" y2="226.4" stroke="#333" stroke-width="0.9"/>
<line x1="506.09" y1="223.4" x2="506.09" y2="225" stroke="#333" stroke-width="0.8"/>
<line x1="511.67" y1="223.4" x2="511.67" y2="225" stroke="#333" stroke-width="0.8"/>
<text transform="translate(321.7,239.3) scale(0.86,1)" font-family="Liberation Sans" font-size="10" font-weight="normal" text-anchor="middle" fill="#1a1a1a" stroke="#1a1a1a" stroke-width="0.26">400</text>
<text transform="translate(344.05,239.3) scale(0.86,1)" font-family="Liberation Sans" font-size="10" font-weight="normal" text-anchor="middle" fill="#1a1a1a" stroke="#1a1a1a" stroke-width="0.26">500</text>
<text transform="translate(366.4,239.3) scale(0.86,1)" font-family="Liberation Sans" font-size="10" font-weight="normal" text-anchor="middle" fill="#1a1a1a" stroke="#1a1a1a" stroke-width="0.26">600</text>
<text transform="translate(388.75,239.3) scale(0.86,1)" font-family="Liberation Sans" font-size="10" font-weight="normal" text-anchor="middle" fill="#1a1a1a" stroke="#1a1a1a" stroke-width="0.26">700</text>
<text transform="translate(411.1,239.3) scale(0.86,1)" font-family="Liberation Sans" font-size="10" font-weight="normal" text-anchor="middle" fill="#1a1a1a" stroke="#1a1a1a" stroke-width="0.26">800</text>
<text transform="translate(433.45,239.3) scale(0.86,1)" font-family="Liberation Sans" font-size="10" font-weight="normal" text-anchor="middle" fill="#1a1a1a" stroke="#1a1a1a" stroke-width="0.26">900</text>
<text transform="translate(455.8,239.3) scale(0.86,1)" font-family="Liberation Sans" font-size="10" font-weight="normal" text-anchor="middle" fill="#1a1a1a" stroke="#1a1a1a" stroke-width="0.26">1000</text>
<text transform="translate(478.15,239.3) scale(0.86,1)" font-family="Liberation Sans" font-size="10" font-weight="normal" text-anchor="middle" fill="#1a1a1a" stroke="#1a1a1a" stroke-width="0.26">1100</text>
<text transform="translate(500.5,239.3) scale(0.86,1)" font-family="Liberation Sans" font-size="10" font-weight="normal" text-anchor="middle" fill="#1a1a1a" stroke="#1a1a1a" stroke-width="0.26">1200</text>
<clipPath id="pc"><rect x="41.7" y="287" width="199.7" height="207.6"/></clipPath>
<path d="M41.8,328.5 L41.89,328.53 L42,328.56 L42.13,328.6 L42.26,328.64 L42.4,328.69 L42.56,328.74 L42.72,328.79 L42.9,328.85 L43.08,328.91 L43.26,328.96 L43.45,329.03 L43.65,329.09 L43.85,329.15 L44.05,329.21 L44.26,329.28 L44.46,329.34 L44.66,329.4 L44.87,329.47 L45.07,329.53 L45.26,329.59 L45.46,329.64 L45.64,329.7M50.22,330.85 L50.45,330.9 L50.69,330.96 L50.94,331.02 L51.2,331.07 L51.46,331.13 L51.73,331.19 L52.01,331.26 L52.29,331.32 L52.57,331.38 L52.85,331.44 L53.14,331.51 L53.42,331.57 L53.71,331.63 L54,331.69 L54.28,331.76 L54.56,331.82 L54.84,331.88 L55.12,331.93 L55.39,331.99 L55.65,332.05 L55.91,332.1 L56.16,332.15 L56.4,332.2M60.63,332.96 L60.83,332.99 L61.02,333.03 L61.21,333.06 L61.4,333.1 L61.59,333.14 L61.78,333.17 L61.96,333.21 L62.15,333.24 L62.33,333.28 L62.51,333.31 L62.69,333.34 L62.87,333.38 L63.05,333.41 L63.23,333.44 L63.4,333.48 L63.58,333.51 L63.75,333.55 L63.92,333.58 L64.08,333.62 L64.25,333.66 L64.41,333.69 L64.57,333.73 L64.73,333.77 L64.89,333.82 L65.05,333.86 L65.2,333.9 L65.35,333.95 L65.5,334 L65.65,334.05 L65.79,334.1 L65.94,334.15 L66.08,334.2 L66.22,334.25 L66.36,334.3 L66.5,334.36M70.21,338.48 L70.26,338.62 L70.32,338.76 L70.37,338.91 L70.42,339.06 L70.47,339.21 L70.52,339.36 L70.57,339.52 L70.61,339.67 L70.66,339.83 L70.71,339.99 L70.75,340.16 L70.8,340.32 L70.84,340.48 L70.88,340.65 L70.92,340.81 L70.96,340.98 L71.01,341.15 L71.05,341.32 L71.09,341.49 L71.12,341.66 L71.16,341.83 L71.2,342 L71.24,342.17 L71.27,342.33 L71.31,342.49 L71.34,342.64 L71.38,342.8 L71.41,342.95 L71.44,343.1 L71.47,343.25 L71.5,343.4 L71.53,343.55 L71.56,343.71 L71.59,343.87 L71.62,344.03 L71.64,344.2 L71.67,344.38 L71.7,344.56 L71.72,344.75 L71.75,344.96 L71.77,345.17 L71.8,345.39 L71.82,345.62 L71.85,345.87 L71.87,346.13 L71.9,346.4M72.4,355.5 L72.43,355.88 L72.46,356.25 L72.5,356.63 L72.53,357 L72.57,357.38 L72.61,357.75 L72.65,358.13 L72.69,358.5 L72.73,358.88 L72.77,359.25 L72.81,359.63 L72.86,360 L72.9,360.37 L72.94,360.75 L72.98,361.12 L73.02,361.5 L73.06,361.87 L73.1,362.25 L73.14,362.62 L73.17,363 L73.21,363.37 L73.24,363.75 L73.27,364.12 L73.3,364.5M73.7,373.6 L73.73,373.93 L73.76,374.26 L73.79,374.58 L73.82,374.91 L73.86,375.22 L73.89,375.54 L73.93,375.85 L73.97,376.15 L74.01,376.45 L74.05,376.75 L74.09,377.05 L74.13,377.34 L74.17,377.62 L74.21,377.91 L74.26,378.18 L74.3,378.46 L74.34,378.73 L74.38,379 L74.42,379.26 L74.46,379.51 L74.49,379.77 L74.53,380.02 L74.57,380.26 L74.6,380.5M76.48,388.72 L76.54,388.78 L76.61,388.83 L76.68,388.88 L76.75,388.92 L76.82,388.95 L76.89,388.98 L76.96,389.01 L77.04,389.03 L77.11,389.04 L77.19,389.06 L77.26,389.06 L77.34,389.07 L77.41,389.07 L77.49,389.07 L77.57,389.06 L77.64,389.06 L77.71,389.05 L77.79,389.04 L77.86,389.03 L77.93,389.01 L78,389 L78.07,388.98 L78.14,388.96 L78.2,388.93 L78.27,388.9 L78.34,388.86 L78.4,388.82 L78.47,388.77 L78.54,388.72 L78.6,388.67 L78.67,388.62 L78.73,388.56 L78.8,388.5 L78.87,388.44 L78.93,388.38 L79,388.32 L79.06,388.26 L79.13,388.19 L79.2,388.13 L79.26,388.07 L79.33,388.01 L79.4,387.96 L79.46,387.9 L79.53,387.85 L79.6,387.8M81.3,386.7 L81.38,386.64 L81.47,386.59 L81.55,386.53 L81.64,386.47 L81.73,386.41 L81.82,386.35 L81.91,386.28 L82,386.22 L82.09,386.15 L82.19,386.09 L82.28,386.02 L82.38,385.96 L82.47,385.89 L82.57,385.82 L82.66,385.76 L82.76,385.69 L82.85,385.63 L82.95,385.56 L83.04,385.5 L83.13,385.44 L83.23,385.38 L83.32,385.32 L83.41,385.26 L83.5,385.2 L83.59,385.14 L83.68,385.08 L83.77,385.01 L83.86,384.95 L83.96,384.88 L84.05,384.8 L84.14,384.73 L84.23,384.66 L84.33,384.59 L84.42,384.52 L84.51,384.45 L84.6,384.38 L84.69,384.32 L84.78,384.26 L84.87,384.2 L84.96,384.15 L85.04,384.11 L85.13,384.07 L85.21,384.04 L85.29,384.01 L85.37,383.99 L85.45,383.99 L85.53,383.99 L85.6,384M87.49,388 L87.53,388.2 L87.57,388.41 L87.61,388.63 L87.64,388.85 L87.68,389.09 L87.72,389.33 L87.77,389.58 L87.81,389.84 L87.85,390.12 L87.9,390.4 L87.95,390.69 L88,391 L88.05,391.32 L88.11,391.67 L88.17,392.03 L88.23,392.4 L88.29,392.8 L88.35,393.2 L88.42,393.62 L88.49,394.05 L88.55,394.48 L88.62,394.93 L88.69,395.38 L88.76,395.83 L88.82,396.29 L88.89,396.74 L88.96,397.2 L89.03,397.65 L89.09,398.1 L89.16,398.54 L89.22,398.98 L89.28,399.41 L89.34,399.83 L89.39,400.23 L89.45,400.62 L89.5,401M90.4,408.7 L90.44,409.04 L90.49,409.39 L90.53,409.73 L90.58,410.08 L90.63,410.43 L90.68,410.78 L90.72,411.14 L90.77,411.49 L90.82,411.85 L90.87,412.21 L90.92,412.57 L90.97,412.93 L91.02,413.3 L91.07,413.66 L91.12,414.03 L91.17,414.4 L91.22,414.77 L91.26,415.14 L91.31,415.51 L91.35,415.89 L91.39,416.26 L91.43,416.64 L91.47,417.02 L91.5,417.4M92,427 L92.03,427.36 L92.07,427.71 L92.11,428.06 L92.15,428.4 L92.19,428.74 L92.23,429.07 L92.28,429.39 L92.32,429.71 L92.37,430.03 L92.42,430.35 L92.46,430.67 L92.51,430.98 L92.56,431.3 L92.61,431.61 L92.66,431.92 L92.71,432.24 L92.76,432.56 L92.81,432.88 L92.86,433.21 L92.91,433.53 L92.96,433.87 L93.01,434.21 L93.05,434.55 L93.1,434.9M94.25,444.23 L94.3,444.44 L94.35,444.63 L94.4,444.81 L94.45,444.97 L94.5,445.11 L94.55,445.25 L94.6,445.37 L94.65,445.47 L94.7,445.57 L94.75,445.66 L94.8,445.74 L94.85,445.81 L94.91,445.87 L94.96,445.93 L95.01,445.98 L95.07,446.02 L95.13,446.07 L95.19,446.11 L95.25,446.15 L95.31,446.18 L95.37,446.22 L95.43,446.26 L95.5,446.3 L95.57,446.34 L95.64,446.38 L95.72,446.43 L95.79,446.47 L95.88,446.51 L95.96,446.54 L96.04,446.57 L96.13,446.6 L96.22,446.63 L96.3,446.65 L96.39,446.66 L96.48,446.67 L96.57,446.67 L96.66,446.66 L96.74,446.64 L96.83,446.62 L96.91,446.58 L96.99,446.54 L97.07,446.48 L97.14,446.41 L97.21,446.33 L97.28,446.23M98.04,441.97 L98.05,441.77 L98.08,441.48 L98.1,441.18 L98.13,440.88 L98.15,440.59 L98.18,440.29 L98.2,440 L98.22,439.71 L98.25,439.41 L98.27,439.11 L98.29,438.81 L98.31,438.5 L98.32,438.19 L98.34,437.87 L98.36,437.56 L98.37,437.23 L98.38,436.91 L98.4,436.58 L98.41,436.25 L98.43,435.91 L98.44,435.68M98.64,431.33 L98.64,431.24 L98.66,430.85 L98.68,430.46 L98.71,430.06 L98.73,429.66 L98.75,429.26 L98.77,428.85 L98.79,428.44 L98.82,428.03 L98.84,427.61 L98.86,427.19 L98.89,426.76 L98.91,426.34 L98.94,425.91 L98.96,425.48 L98.99,425.05 L98.99,425.04M99.3,420.69 L99.31,420.67 L99.34,420.22 L99.38,419.77 L99.42,419.32 L99.46,418.86 L99.5,418.41 L99.54,417.95 L99.58,417.49 L99.63,417.03 L99.67,416.56 L99.71,416.1 L99.76,415.63 L99.8,415.17 L99.84,414.7 L99.87,414.42M100.29,410.08 L100.33,409.62 L100.38,409.16 L100.42,408.69 L100.47,408.23 L100.52,407.76 L100.56,407.3 L100.61,406.83 L100.66,406.37 L100.7,405.9 L100.75,405.44 L100.8,404.97 L100.84,404.51 L100.89,404.05 L100.94,403.59 L100.98,403.14 L101.03,402.68 L101.08,402.23 L101.12,401.78 L101.17,401.33 L101.21,400.88 L101.26,400.44 L101.3,400M101.87,394.2 L101.89,394 L101.93,393.59 L101.97,393.18 L102.02,392.76 L102.06,392.33 L102.11,391.89 L102.15,391.43 L102.2,390.97 L102.25,390.49 L102.3,390 L102.35,389.5 L102.41,388.99 L102.46,388.47 L102.52,387.94 L102.52,387.94M103.16,382.15 L103.21,381.72 L103.27,381.11 L103.34,380.5 L103.41,379.88 L103.47,379.25 L103.54,378.61 L103.6,377.97 L103.67,377.32 L103.74,376.66 L103.8,376 L103.81,375.88M104.33,370.08 L104.34,369.89 L104.41,369.06 L104.48,368.23 L104.56,367.39 L104.62,366.56 L104.69,365.74 L104.76,364.92 L104.83,364.12 L104.86,363.8M105.4,358 L105.46,357.5 L105.51,357.02 L105.56,356.58 L105.61,356.17 L105.65,355.78 L105.7,355.42 L105.75,355.08 L105.79,354.76 L105.83,354.46 L105.87,354.18 L105.92,353.91 L105.96,353.66 L106,353.41 L106.04,353.18 L106.08,352.96 L106.12,352.74 L106.16,352.53 L106.21,352.32 L106.25,352.11 L106.3,351.89 L106.35,351.68 L106.4,351.46 L106.45,351.23 L106.5,351 L106.55,350.77 L106.6,350.55 L106.66,350.35 L106.7,350.17 L106.75,349.99 L106.8,349.82 L106.85,349.66 L106.9,349.51 L106.95,349.36 L107,349.21 L107.05,349.07 L107.11,348.92 L107.16,348.77 L107.22,348.62 L107.28,348.46 L107.34,348.29 L107.41,348.12 L107.48,347.93 L107.56,347.73 L107.64,347.52 L107.72,347.29 L107.81,347.05 L107.9,346.78 L108,346.5 L108.11,346.19 L108.22,345.86M111.4,336.8 L111.54,336.47 L111.67,336.14 L111.8,335.82 L111.93,335.51 L112.05,335.2 L112.17,334.9 L112.3,334.61 L112.42,334.32 L112.54,334.04 L112.66,333.76 L112.78,333.49 L112.91,333.22 L113.03,332.96 L113.16,332.7 L113.28,332.44 L113.41,332.19 L113.55,331.95 L113.69,331.7 L113.83,331.46 L113.97,331.22 L114.12,330.99 L114.27,330.76 L114.43,330.53 L114.6,330.3M119.5,325.9 L119.72,325.69 L119.94,325.48 L120.17,325.27 L120.4,325.05 L120.64,324.83 L120.88,324.61 L121.11,324.39 L121.36,324.16 L121.6,323.93 L121.84,323.7 L122.08,323.47 L122.32,323.24 L122.57,323 L122.81,322.77 L123.04,322.54 L123.28,322.31 L123.51,322.08 L123.74,321.85 L123.96,321.62 L124.18,321.39 L124.39,321.16 L124.6,320.94 L124.8,320.72 L125,320.5 L125.19,320.28 L125.37,320.07 L125.54,319.85M129.37,314.8 L129.54,314.63 L129.71,314.47 L129.88,314.3 L130.06,314.14 L130.23,313.99 L130.4,313.83 L130.58,313.68 L130.76,313.53 L130.93,313.37 L131.11,313.23 L131.3,313.08 L131.48,312.93 L131.66,312.79 L131.85,312.65 L132.04,312.5 L132.22,312.36 L132.42,312.22 L132.61,312.08 L132.8,311.94 L133,311.8 L133.2,311.66 L133.4,311.52 L133.61,311.39 L133.82,311.25 L134.03,311.12 L134.25,310.98 L134.46,310.85 L134.68,310.72M140.03,307.85 L140.23,307.75 L140.43,307.65 L140.62,307.56 L140.82,307.46 L141.02,307.37 L141.22,307.27 L141.41,307.18 L141.61,307.09 L141.81,307 L142.01,306.91 L142.2,306.83 L142.4,306.74 L142.6,306.66 L142.8,306.58 L143,306.5 L143.2,306.42 L143.4,306.34 L143.6,306.27 L143.81,306.19 L144.01,306.12 L144.21,306.04 L144.42,305.97 L144.62,305.9 L144.83,305.83 L145.03,305.76 L145.23,305.7 L145.44,305.63 L145.64,305.57M150.88,304.66 L151.06,304.65 L151.24,304.64 L151.42,304.63 L151.61,304.62 L151.8,304.61 L152,304.6 L152.2,304.59 L152.39,304.58 L152.59,304.57 L152.78,304.56 L152.97,304.55 L153.17,304.54 L153.36,304.53 L153.56,304.52 L153.75,304.51 L153.95,304.5 L154.16,304.49 L154.36,304.49 L154.57,304.48 L154.79,304.47 L155.01,304.47 L155.24,304.46 L155.48,304.45 L155.73,304.45 L155.98,304.44 L156.24,304.43 L156.52,304.42 L156.8,304.42 L157.09,304.41 L157.4,304.4 L157.72,304.39 L158.05,304.38 L158.4,304.38M159.51,304.35 L159.9,304.34 L160.29,304.33 L160.7,304.32 L161.11,304.32 L161.52,304.31 L161.94,304.3 L162.37,304.29 L162.79,304.28 L163.22,304.27 L163.65,304.27 L164.08,304.26 L164.51,304.25 L164.93,304.24 L165.36,304.23 L165.78,304.22M170.48,304.11 L170.86,304.1 L171.25,304.09 L171.63,304.07 L172.02,304.06 L172.4,304.05 L172.8,304.05 L173.19,304.04 L173.59,304.03 L173.99,304.02 L174.39,304.02 L174.8,304.01 L175.22,304.01 L175.64,304 L176.07,304 L176.5,304 L176.94,304 L177.39,304M182.09,304.06 L182.58,304.07 L183.07,304.08 L183.56,304.09 L184.06,304.1 L184.55,304.11 L185.04,304.13 L185.54,304.14 L186.03,304.15 L186.52,304.16 L187.02,304.18 L187.51,304.19 L188,304.2M193.97,304.37 L194.47,304.39 L194.97,304.4 L195.48,304.42 L195.98,304.44 L196.48,304.46 L196.99,304.47 L197.49,304.49 L197.99,304.51 L198.5,304.53 L199,304.56 L199.5,304.58 L200,304.6 L200.5,304.62 L201,304.65 L201.5,304.67 L202,304.7 L202.51,304.72 L203.01,304.75 L203.51,304.78 L204.01,304.81 L204.51,304.84M212,305.3 L212.5,305.33 L212.99,305.36 L213.49,305.4 L214,305.43 L214.5,305.46 L215,305.5 L215.51,305.53 L216.01,305.56 L216.51,305.6 L217.02,305.63 L217.52,305.67 L218.02,305.7M222.35,306 L222.81,306.04 L223.26,306.07 L223.7,306.1 L224.13,306.13 L224.56,306.16 L224.98,306.19 L225.4,306.22 L225.81,306.25 L226.21,306.28 L226.62,306.31 L227.01,306.34 L227.4,306.37 L227.79,306.39 L228.18,306.42 L228.56,306.45M233,306.8 L233.37,306.83 L233.76,306.87 L234.15,306.9 L234.55,306.94 L234.95,306.97 L235.36,307.01 L235.77,307.05 L236.18,307.09 L236.59,307.13 L236.99,307.17 L237.39,307.21 L237.78,307.24 L238.17,307.28 L238.54,307.32 L238.9,307.35 L239.26,307.39 L239.59,307.42 L239.91,307.45 L240.21,307.48 L240.5,307.51 L240.76,307.54 L241,307.56" fill="none" stroke="#111" stroke-width="2" stroke-linejoin="round" clip-path="url(#pc)"/>
<path d="M41.8,290.8C42.42,290.8 44.13,290.72 45.5,290.8C46.87,290.88 48.72,291.03 50,291.3C51.28,291.57 52.22,291.87 53.2,292.4C54.18,292.93 55,293.63 55.9,294.5C56.8,295.37 57.77,296.47 58.6,297.6C59.43,298.73 60.22,299.93 60.9,301.3C61.58,302.67 62.17,304.13 62.7,305.8C63.23,307.47 63.72,309.48 64.1,311.3C64.48,313.12 64.73,314.73 65,316.7C65.27,318.67 65.47,320.97 65.7,323.1C65.93,325.23 66.1,327.18 66.4,329.5C66.7,331.82 67.12,334.58 67.5,337C67.88,339.42 68.27,341.38 68.7,344C69.13,346.62 69.63,349.28 70.1,352.7C70.57,356.12 71.05,361.47 71.5,364.5C71.95,367.53 72.2,370.28 72.8,370.9C73.4,371.52 74.27,369.72 75.1,368.2C75.93,366.68 76.9,364.08 77.8,361.8C78.7,359.52 79.58,356.85 80.5,354.5C81.42,352.15 82.62,349.28 83.3,347.7C83.98,346.12 84.15,345.07 84.6,345C85.05,344.93 85.47,345.87 86,347.3C86.53,348.73 87.12,350.73 87.8,353.6C88.48,356.47 89.42,360.85 90.1,364.5C90.78,368.15 91.4,371.25 91.9,375.5C92.4,379.75 92.72,385.08 93.1,390C93.48,394.92 93.75,399.7 94.2,405C94.65,410.3 95.17,416.27 95.8,421.8C96.43,427.33 97.37,434 98,438.2C98.63,442.4 99.05,447 99.6,447C100.15,447 100.83,442.4 101.3,438.2C101.77,434 102.07,426.5 102.4,421.8C102.73,417.1 103.03,413.63 103.3,410C103.57,406.37 103.75,404.17 104,400C104.25,395.83 104.57,389.17 104.8,385C105.03,380.83 105.22,378.48 105.4,375C105.58,371.52 105.63,367.73 105.9,364.1C106.17,360.47 106.55,356.83 107,353.2C107.45,349.57 107.87,345.58 108.6,342.3C109.33,339.02 110.3,336.23 111.4,333.5C112.5,330.77 113.75,328.25 115.2,325.9C116.65,323.55 118.47,321.3 120.1,319.4C121.73,317.5 123.02,316.4 125,314.5C126.98,312.6 129.8,310.07 132,308C134.2,305.93 136.2,303.77 138.2,302.1C140.2,300.43 142.08,299.12 144,298C145.92,296.88 147.87,296.1 149.7,295.4C151.53,294.7 153.08,294.22 155,293.8C156.92,293.38 157.62,293.05 161.2,292.9C164.78,292.75 170.03,292.87 176.5,292.9C182.97,292.93 192.75,293 200,293.1C207.25,293.2 213.1,293.35 220,293.5C226.9,293.65 237.83,293.92 241.4,294" fill="none" stroke="#e6c000" stroke-width="1.3" stroke-linejoin="round" clip-path="url(#pc)"/>
<path d="M41.8,324.5C42.72,324.53 45.63,324.55 47.3,324.7C48.97,324.85 50.28,325.07 51.8,325.4C53.32,325.73 55.03,326.1 56.4,326.7C57.77,327.3 58.95,328.17 60,329C61.05,329.83 62.02,330.87 62.7,331.7C63.38,332.53 63.68,333.08 64.1,334C64.52,334.92 64.88,336.2 65.2,337.2C65.52,338.2 65.72,338.17 66,340C66.28,341.83 66.52,344.87 66.9,348.2C67.28,351.53 67.85,356.22 68.3,360C68.75,363.78 69.15,368.02 69.6,370.9C70.05,373.78 70.53,375.93 71,377.3C71.47,378.67 71.87,379.25 72.4,379.1C72.93,378.95 73.45,378.22 74.2,376.4C74.95,374.58 76,370.78 76.9,368.2C77.8,365.62 78.77,362.8 79.6,360.9C80.43,359 81.37,357.55 81.9,356.8C82.43,356.05 82.42,356.17 82.8,356.4C83.18,356.63 83.67,356.85 84.2,358.2C84.73,359.55 85.4,362.23 86,364.5C86.6,366.77 87.2,369.22 87.8,371.8C88.4,374.38 89.1,376.97 89.6,380C90.1,383.03 90.43,386.67 90.8,390C91.17,393.33 91.5,397.17 91.8,400C92.1,402.83 92.38,405.25 92.6,407C92.82,408.75 92.83,410.25 93.1,410.5C93.37,410.75 93.8,409.92 94.2,408.5C94.6,407.08 95.03,404.75 95.5,402C95.97,399.25 96.62,395.67 97,392C97.38,388.33 97.5,383.67 97.8,380C98.1,376.33 98.52,373 98.8,370C99.08,367 99.22,364.5 99.5,362C99.78,359.5 99.98,358.25 100.5,355C101.02,351.75 101.7,346.08 102.6,342.5C103.5,338.92 104.92,335.7 105.9,333.5C106.88,331.3 107.58,330.55 108.5,329.3C109.42,328.05 110.02,327.47 111.4,326C112.78,324.53 114.98,322.15 116.8,320.5C118.62,318.85 120.43,317.72 122.3,316.1C124.17,314.48 126.3,312.33 128,310.8C129.7,309.27 131,308.12 132.5,306.9C134,305.68 135.4,304.45 137,303.5C138.6,302.55 140.43,301.82 142.1,301.2C143.77,300.58 145.42,300.12 147,299.8C148.58,299.48 149.77,299.37 151.6,299.3C153.43,299.23 155.45,299.35 158,299.4C160.55,299.45 163.9,299.5 166.9,299.6C169.9,299.7 172.82,299.83 176,300C179.18,300.17 182,300.5 186,300.6C190,300.7 196,300.67 200,300.6C204,300.53 206.63,300.27 210,300.2C213.37,300.13 216.87,300.02 220.2,300.2C223.53,300.38 226.47,300.82 230,301.3C233.53,301.78 239.5,302.8 241.4,303.1" fill="none" stroke="#8f10ff" stroke-width="1.6" stroke-linejoin="round" clip-path="url(#pc)"/>
<path d="M41.8,294C42.72,293.95 45.63,293.65 47.3,293.7C48.97,293.75 50.28,294.02 51.8,294.3C53.32,294.58 54.88,294.92 56.4,295.4C57.92,295.88 59.62,296.52 60.9,297.2C62.18,297.88 63.27,298.67 64.1,299.5C64.93,300.33 65.45,301 65.9,302.2C66.35,303.4 66.53,304.88 66.8,306.7C67.07,308.52 67.3,310.82 67.5,313.1C67.7,315.38 67.83,317.98 68,320.4C68.17,322.82 68.35,325.33 68.5,327.6C68.65,329.87 68.72,332.08 68.9,334C69.08,335.92 69.33,336.73 69.6,339.1C69.87,341.47 70.18,345.17 70.5,348.2C70.82,351.23 71.18,354.27 71.5,357.3C71.82,360.33 72.1,363.68 72.4,366.4C72.7,369.12 73,371.93 73.3,373.6C73.6,375.27 73.83,376.7 74.2,376.4C74.57,376.1 74.97,373.78 75.5,371.8C76.03,369.82 76.72,367.07 77.4,364.5C78.08,361.93 78.85,359.12 79.6,356.4C80.35,353.68 81.22,350.4 81.9,348.2C82.58,346 83.25,344.18 83.7,343.2C84.15,342.22 84.22,342.08 84.6,342.3C84.98,342.52 85.47,343.07 86,344.5C86.53,345.93 87.2,348.17 87.8,350.9C88.4,353.63 88.98,357.27 89.6,360.9C90.22,364.53 91.03,369.52 91.5,372.7C91.97,375.88 92.07,376.12 92.4,380C92.73,383.88 93.02,389.93 93.5,396C93.98,402.07 94.75,411.48 95.3,416.4C95.85,421.32 96.35,423.05 96.8,425.5C97.25,427.95 97.62,431.72 98,431.1C98.38,430.48 98.73,425.17 99.1,421.8C99.47,418.43 99.83,414.53 100.2,410.9C100.57,407.27 101,403.82 101.3,400C101.6,396.18 101.78,392.17 102,388C102.22,383.83 102.4,378.98 102.6,375C102.8,371.02 102.92,367.73 103.2,364.1C103.48,360.47 103.85,356.83 104.3,353.2C104.75,349.57 105.18,345.58 105.9,342.3C106.62,339.02 107.42,336.23 108.6,333.5C109.78,330.77 111.45,328.25 113,325.9C114.55,323.55 116.45,321.22 117.9,319.4C119.35,317.58 120.18,316.9 121.7,315C123.22,313.1 125.2,310.15 127,308C128.8,305.85 130.83,303.85 132.5,302.1C134.17,300.35 135.4,298.77 137,297.5C138.6,296.23 140.52,295.37 142.1,294.5C143.68,293.63 144.92,292.78 146.5,292.3C148.08,291.82 149.85,291.73 151.6,291.6C153.35,291.47 155.08,291.5 157,291.5C158.92,291.5 159.85,291.42 163.1,291.6C166.35,291.78 172.02,292.23 176.5,292.6C180.98,292.97 186.08,293.47 190,293.8C193.92,294.13 196.35,294.28 200,294.6C203.65,294.92 207.73,295.42 211.9,295.7C216.07,295.98 220.08,296.08 225,296.3C229.92,296.52 238.67,296.88 241.4,297" fill="none" stroke="#178c8c" stroke-width="1.6" stroke-linejoin="round" clip-path="url(#pc)"/>
<line x1="41.7" y1="287" x2="241.4" y2="287" stroke="#777" stroke-width="1.5"/>
<line x1="241.4" y1="287" x2="241.4" y2="494.6" stroke="#555" stroke-width="1.1"/>
<line x1="41.7" y1="286.5" x2="41.7" y2="495.1" stroke="#333" stroke-width="1.2"/>
<line x1="41.2" y1="494.6" x2="241.9" y2="494.6" stroke="#333" stroke-width="1.1"/>
<line x1="38.9" y1="286.9" x2="41.7" y2="286.9" stroke="#333" stroke-width="0.9"/>
<line x1="40.1" y1="294.92" x2="41.7" y2="294.92" stroke="#333" stroke-width="0.8"/>
<line x1="40.1" y1="302.95" x2="41.7" y2="302.95" stroke="#333" stroke-width="0.8"/>
<line x1="40.1" y1="310.97" x2="41.7" y2="310.97" stroke="#333" stroke-width="0.8"/>
<line x1="38.9" y1="319" x2="41.7" y2="319" stroke="#333" stroke-width="0.9"/>
<line x1="40.1" y1="327.02" x2="41.7" y2="327.02" stroke="#333" stroke-width="0.8"/>
<line x1="40.1" y1="335.05" x2="41.7" y2="335.05" stroke="#333" stroke-width="0.8"/>
<line x1="40.1" y1="343.07" x2="41.7" y2="343.07" stroke="#333" stroke-width="0.8"/>
<line x1="38.9" y1="351.1" x2="41.7" y2="351.1" stroke="#333" stroke-width="0.9"/>
<line x1="40.1" y1="359.12" x2="41.7" y2="359.12" stroke="#333" stroke-width="0.8"/>
<line x1="40.1" y1="367.15" x2="41.7" y2="367.15" stroke="#333" stroke-width="0.8"/>
<line x1="40.1" y1="375.17" x2="41.7" y2="375.17" stroke="#333" stroke-width="0.8"/>
<line x1="38.9" y1="383.2" x2="41.7" y2="383.2" stroke="#333" stroke-width="0.9"/>
<line x1="40.1" y1="391.22" x2="41.7" y2="391.22" stroke="#333" stroke-width="0.8"/>
<line x1="40.1" y1="399.25" x2="41.7" y2="399.25" stroke="#333" stroke-width="0.8"/>
<line x1="40.1" y1="407.27" x2="41.7" y2="407.27" stroke="#333" stroke-width="0.8"/>
<line x1="38.9" y1="415.3" x2="41.7" y2="415.3" stroke="#333" stroke-width="0.9"/>
<line x1="40.1" y1="423.32" x2="41.7" y2="423.32" stroke="#333" stroke-width="0.8"/>
<line x1="40.1" y1="431.35" x2="41.7" y2="431.35" stroke="#333" stroke-width="0.8"/>
<line x1="40.1" y1="439.38" x2="41.7" y2="439.38" stroke="#333" stroke-width="0.8"/>
<line x1="38.9" y1="447.4" x2="41.7" y2="447.4" stroke="#333" stroke-width="0.9"/>
<line x1="40.1" y1="455.42" x2="41.7" y2="455.42" stroke="#333" stroke-width="0.8"/>
<line x1="40.1" y1="463.45" x2="41.7" y2="463.45" stroke="#333" stroke-width="0.8"/>
<line x1="40.1" y1="471.47" x2="41.7" y2="471.47" stroke="#333" stroke-width="0.8"/>
<line x1="38.9" y1="479.5" x2="41.7" y2="479.5" stroke="#333" stroke-width="0.9"/>
<line x1="40.1" y1="487.52" x2="41.7" y2="487.52" stroke="#333" stroke-width="0.8"/>
<line x1="40.1" y1="495.55" x2="41.7" y2="495.55" stroke="#333" stroke-width="0.8"/>
<text transform="translate(36.5,290.5) scale(0.85,1)" font-family="Liberation Sans" font-size="10" font-weight="normal" text-anchor="end" fill="#1a1a1a" stroke="#1a1a1a" stroke-width="0.26">0</text>
<text transform="translate(36.5,322.6) scale(0.85,1)" font-family="Liberation Sans" font-size="10" font-weight="normal" text-anchor="end" fill="#1a1a1a" stroke="#1a1a1a" stroke-width="0.26">-10</text>
<text transform="translate(36.5,354.7) scale(0.85,1)" font-family="Liberation Sans" font-size="10" font-weight="normal" text-anchor="end" fill="#1a1a1a" stroke="#1a1a1a" stroke-width="0.26">-20</text>
<text transform="translate(36.5,386.8) scale(0.85,1)" font-family="Liberation Sans" font-size="10" font-weight="normal" text-anchor="end" fill="#1a1a1a" stroke="#1a1a1a" stroke-width="0.26">-30</text>
<text transform="translate(36.5,418.9) scale(0.85,1)" font-family="Liberation Sans" font-size="10" font-weight="normal" text-anchor="end" fill="#1a1a1a" stroke="#1a1a1a" stroke-width="0.26">-40</text>
<text transform="translate(36.5,451) scale(0.85,1)" font-family="Liberation Sans" font-size="10" font-weight="normal" text-anchor="end" fill="#1a1a1a" stroke="#1a1a1a" stroke-width="0.26">-50</text>
<text transform="translate(36.5,483.1) scale(0.85,1)" font-family="Liberation Sans" font-size="10" font-weight="normal" text-anchor="end" fill="#1a1a1a" stroke="#1a1a1a" stroke-width="0.26">-60</text>
<line x1="46.64" y1="494.6" x2="46.64" y2="496.2" stroke="#333" stroke-width="0.8"/>
<line x1="52.2" y1="494.6" x2="52.2" y2="497.6" stroke="#333" stroke-width="0.9"/>
<line x1="57.76" y1="494.6" x2="57.76" y2="496.2" stroke="#333" stroke-width="0.8"/>
<line x1="63.33" y1="494.6" x2="63.33" y2="496.2" stroke="#333" stroke-width="0.8"/>
<line x1="68.89" y1="494.6" x2="68.89" y2="496.2" stroke="#333" stroke-width="0.8"/>
<line x1="74.45" y1="494.6" x2="74.45" y2="497.6" stroke="#333" stroke-width="0.9"/>
<line x1="80.01" y1="494.6" x2="80.01" y2="496.2" stroke="#333" stroke-width="0.8"/>
<line x1="85.58" y1="494.6" x2="85.58" y2="496.2" stroke="#333" stroke-width="0.8"/>
<line x1="91.14" y1="494.6" x2="91.14" y2="496.2" stroke="#333" stroke-width="0.8"/>
<line x1="96.7" y1="494.6" x2="96.7" y2="497.6" stroke="#333" stroke-width="0.9"/>
<line x1="102.26" y1="494.6" x2="102.26" y2="496.2" stroke="#333" stroke-width="0.8"/>
<line x1="107.83" y1="494.6" x2="107.83" y2="496.2" stroke="#333" stroke-width="0.8"/>
<line x1="113.39" y1="494.6" x2="113.39" y2="496.2" stroke="#333" stroke-width="0.8"/>
<line x1="118.95" y1="494.6" x2="118.95" y2="497.6" stroke="#333" stroke-width="0.9"/>
<line x1="124.51" y1="494.6" x2="124.51" y2="496.2" stroke="#333" stroke-width="0.8"/>
<line x1="130.07" y1="494.6" x2="130.07" y2="496.2" stroke="#333" stroke-width="0.8"/>
<line x1="135.64" y1="494.6" x2="135.64" y2="496.2" stroke="#333" stroke-width="0.8"/>
<line x1="141.2" y1="494.6" x2="141.2" y2="497.6" stroke="#333" stroke-width="0.9"/>
<line x1="146.76" y1="494.6" x2="146.76" y2="496.2" stroke="#333" stroke-width="0.8"/>
<line x1="152.32" y1="494.6" x2="152.32" y2="496.2" stroke="#333" stroke-width="0.8"/>
<line x1="157.89" y1="494.6" x2="157.89" y2="496.2" stroke="#333" stroke-width="0.8"/>
<line x1="163.45" y1="494.6" x2="163.45" y2="497.6" stroke="#333" stroke-width="0.9"/>
<line x1="169.01" y1="494.6" x2="169.01" y2="496.2" stroke="#333" stroke-width="0.8"/>
<line x1="174.57" y1="494.6" x2="174.57" y2="496.2" stroke="#333" stroke-width="0.8"/>
<line x1="180.14" y1="494.6" x2="180.14" y2="496.2" stroke="#333" stroke-width="0.8"/>
<line x1="185.7" y1="494.6" x2="185.7" y2="497.6" stroke="#333" stroke-width="0.9"/>
<line x1="191.26" y1="494.6" x2="191.26" y2="496.2" stroke="#333" stroke-width="0.8"/>
<line x1="196.82" y1="494.6" x2="196.82" y2="496.2" stroke="#333" stroke-width="0.8"/>
<line x1="202.39" y1="494.6" x2="202.39" y2="496.2" stroke="#333" stroke-width="0.8"/>
<line x1="207.95" y1="494.6" x2="207.95" y2="497.6" stroke="#333" stroke-width="0.9"/>
<line x1="213.51" y1="494.6" x2="213.51" y2="496.2" stroke="#333" stroke-width="0.8"/>
<line x1="219.07" y1="494.6" x2="219.07" y2="496.2" stroke="#333" stroke-width="0.8"/>
<line x1="224.64" y1="494.6" x2="224.64" y2="496.2" stroke="#333" stroke-width="0.8"/>
<line x1="230.2" y1="494.6" x2="230.2" y2="497.6" stroke="#333" stroke-width="0.9"/>
<line x1="235.76" y1="494.6" x2="235.76" y2="496.2" stroke="#333" stroke-width="0.8"/>
<line x1="241.32" y1="494.6" x2="241.32" y2="496.2" stroke="#333" stroke-width="0.8"/>
<text transform="translate(52.2,510.8) scale(0.86,1)" font-family="Liberation Sans" font-size="10" font-weight="normal" text-anchor="middle" fill="#1a1a1a" stroke="#1a1a1a" stroke-width="0.26">400</text>
<text transform="translate(74.45,510.8) scale(0.86,1)" font-family="Liberation Sans" font-size="10" font-weight="normal" text-anchor="middle" fill="#1a1a1a" stroke="#1a1a1a" stroke-width="0.26">500</text>
<text transform="translate(96.7,510.8) scale(0.86,1)" font-family="Liberation Sans" font-size="10" font-weight="normal" text-anchor="middle" fill="#1a1a1a" stroke="#1a1a1a" stroke-width="0.26">600</text>
<text transform="translate(118.95,510.8) scale(0.86,1)" font-family="Liberation Sans" font-size="10" font-weight="normal" text-anchor="middle" fill="#1a1a1a" stroke="#1a1a1a" stroke-width="0.26">700</text>
<text transform="translate(141.2,510.8) scale(0.86,1)" font-family="Liberation Sans" font-size="10" font-weight="normal" text-anchor="middle" fill="#1a1a1a" stroke="#1a1a1a" stroke-width="0.26">800</text>
<text transform="translate(163.45,510.8) scale(0.86,1)" font-family="Liberation Sans" font-size="10" font-weight="normal" text-anchor="middle" fill="#1a1a1a" stroke="#1a1a1a" stroke-width="0.26">900</text>
<text transform="translate(185.7,510.8) scale(0.86,1)" font-family="Liberation Sans" font-size="10" font-weight="normal" text-anchor="middle" fill="#1a1a1a" stroke="#1a1a1a" stroke-width="0.26">1000</text>
<text transform="translate(207.95,510.8) scale(0.86,1)" font-family="Liberation Sans" font-size="10" font-weight="normal" text-anchor="middle" fill="#1a1a1a" stroke="#1a1a1a" stroke-width="0.26">1100</text>
<text transform="translate(230.2,510.8) scale(0.86,1)" font-family="Liberation Sans" font-size="10" font-weight="normal" text-anchor="middle" fill="#1a1a1a" stroke="#1a1a1a" stroke-width="0.26">1200</text>
<clipPath id="pd"><rect x="317.7" y="286.9" width="198.1" height="208.7"/></clipPath>
<path d="M317.7,328.1 L317.84,328.15 L318.01,328.21 L318.18,328.27 L318.38,328.34 L318.59,328.42 L318.81,328.49 L319.04,328.58 L319.29,328.67 L319.55,328.76 L319.82,328.85 L320.09,328.95 L320.38,329.06 L320.68,329.16 L320.98,329.27 L321.29,329.38 L321.6,329.49 L321.92,329.6 L322.24,329.71 L322.56,329.83M326.81,331.33 L327.23,331.48 L327.64,331.63 L328.06,331.78 L328.48,331.93 L328.9,332.07 L329.32,332.22 L329.73,332.37 L330.14,332.51 L330.54,332.64 L330.93,332.78 L331.32,332.9 L331.69,333.02 L332.04,333.14 L332.38,333.24M337.04,333.75 L337.22,333.77 L337.4,333.8 L337.59,333.83 L337.79,333.87 L338,333.9 L338.21,333.94 L338.43,333.99 L338.65,334.03 L338.88,334.08 L339.11,334.12 L339.34,334.17 L339.57,334.22 L339.8,334.27 L340.02,334.33 L340.25,334.38 L340.48,334.43 L340.7,334.49 L340.91,334.54 L341.13,334.6 L341.33,334.66 L341.53,334.71 L341.72,334.77 L341.91,334.83 L342.08,334.89 L342.25,334.94 L342.4,335M345.46,337.9 L345.52,338.02 L345.58,338.13 L345.64,338.25 L345.7,338.37 L345.75,338.49 L345.8,338.61 L345.85,338.73 L345.9,338.85 L345.95,338.98 L346,339.1 L346.04,339.23 L346.09,339.35 L346.13,339.48 L346.16,339.61 L346.2,339.75 L346.23,339.88 L346.26,340.02 L346.29,340.16 L346.32,340.29 L346.35,340.43 L346.37,340.58 L346.4,340.72 L346.42,340.86 L346.45,341.01 L346.47,341.15 L346.5,341.3 L346.52,341.45 L346.54,341.6 L346.57,341.75 L346.59,341.9 L346.62,342.05 L346.64,342.2 L346.67,342.35 L346.7,342.5 L346.73,342.65 L346.76,342.8 L346.79,342.94 L346.82,343.08 L346.85,343.22 L346.88,343.35 L346.91,343.49 L346.94,343.63 L346.97,343.76 L347,343.9 L347.03,344.04 L347.06,344.19 L347.09,344.34 L347.12,344.49 L347.14,344.64 L347.17,344.81 L347.2,344.98 L347.23,345.15 L347.26,345.34 L347.29,345.53 L347.32,345.73 L347.35,345.94M347.64,349.14 L347.66,349.46 L347.69,349.81 L347.71,350.16 L347.74,350.51 L347.76,350.86 L347.79,351.21 L347.81,351.55 L347.84,351.89 L347.86,352.22 L347.88,352.55 L347.91,352.86 L347.93,353.17 L347.95,353.46 L347.98,353.74 L348,354 L348.02,354.25 L348.04,354.49 L348.06,354.71 L348.08,354.93 L348.1,355.14 L348.12,355.34 L348.13,355.42M348.5,358.6 L348.53,358.81 L348.57,359.02 L348.61,359.22 L348.64,359.42 L348.69,359.63 L348.73,359.83 L348.77,360.03 L348.82,360.23 L348.86,360.44 L348.91,360.65 L348.96,360.86 L349.01,361.07 L349.05,361.29 L349.1,361.51 L349.15,361.73 L349.19,361.97 L349.24,362.21 L349.28,362.45 L349.32,362.7 L349.36,362.96 L349.4,363.23 L349.44,363.51 L349.47,363.8 L349.5,364.1M349.9,373.2 L349.93,373.56 L349.96,373.92 L349.99,374.28 L350.02,374.64 L350.06,374.99 L350.09,375.35 L350.13,375.71 L350.17,376.06 L350.21,376.41 L350.25,376.76 L350.29,377.11 L350.33,377.46 L350.37,377.8 L350.41,378.14 L350.46,378.48 L350.5,378.82 L350.54,379.15 L350.58,379.48 L350.62,379.81 L350.66,380.14 L350.69,380.46 L350.73,380.78 L350.77,381.09 L350.8,381.4M352.01,389.69 L352.06,389.74 L352.11,389.78 L352.16,389.83 L352.22,389.86 L352.28,389.9 L352.35,389.94 L352.42,389.97 L352.5,390 L352.59,390.03 L352.68,390.05 L352.78,390.07 L352.89,390.08 L353.01,390.09 L353.13,390.09 L353.26,390.09 L353.39,390.08 L353.52,390.07 L353.65,390.05 L353.79,390.04 L353.93,390.01 L354.07,389.99 L354.21,389.96 L354.35,389.92 L354.48,389.89 L354.61,389.85 L354.74,389.8 L354.87,389.76 L354.99,389.71 L355.1,389.66 L355.21,389.61 L355.31,389.56 L355.4,389.5M356.7,387.3 L356.78,387.22 L356.86,387.14 L356.94,387.06 L357.03,386.99 L357.11,386.91 L357.2,386.84 L357.3,386.76 L357.39,386.69 L357.49,386.62 L357.59,386.55 L357.69,386.48 L357.79,386.41 L357.89,386.34 L357.99,386.27 L358.09,386.2 L358.2,386.13 L358.3,386.07 L358.4,386 L358.5,385.93 L358.61,385.87 L358.71,385.8 L358.81,385.73 L358.9,385.67 L359,385.6 L359.1,385.53 L359.19,385.45 L359.29,385.37 L359.39,385.28 L359.5,385.19 L359.6,385.1 L359.7,385 L359.8,384.9 L359.91,384.81 L360.01,384.71 L360.11,384.62 L360.21,384.53 L360.31,384.45 L360.41,384.37 L360.51,384.29 L360.61,384.23 L360.7,384.17 L360.8,384.13 L360.89,384.09 L360.97,384.06 L361.06,384.05 L361.14,384.05 L361.22,384.07 L361.3,384.1M363.5,393.2 L363.54,393.42 L363.58,393.64 L363.62,393.85 L363.66,394.07 L363.7,394.28 L363.75,394.5 L363.79,394.71 L363.83,394.92 L363.87,395.13 L363.91,395.33 L363.96,395.54 L364,395.74 L364.04,395.95 L364.09,396.14 L364.13,396.34 L364.17,396.54 L364.21,396.73 L364.25,396.92 L364.3,397.11 L364.34,397.29 L364.38,397.47 L364.42,397.65 L364.46,397.83 L364.5,398 L364.54,398.16 L364.58,398.31 L364.62,398.45 L364.66,398.58 L364.7,398.7 L364.74,398.81 L364.78,398.92 L364.83,399.03 L364.87,399.13 L364.91,399.23 L364.95,399.33 L364.99,399.43 L365.03,399.54 L365.07,399.65 L365.1,399.77 L365.14,399.9 L365.18,400.03 L365.21,400.18 L365.25,400.34 L365.28,400.52 L365.31,400.71 L365.34,400.92 L365.37,401.15 L365.4,401.4M365.8,410.5 L365.82,410.75 L365.84,410.98 L365.87,411.2 L365.89,411.39 L365.91,411.57 L365.94,411.74 L365.96,411.89 L365.99,412.04 L366.01,412.17 L366.04,412.29 L366.06,412.41 L366.09,412.53 L366.11,412.63 L366.14,412.74 L366.17,412.85 L366.19,412.95 L366.22,413.06 L366.25,413.17 L366.27,413.29 L366.3,413.41 L366.32,413.54 L366.35,413.68 L366.37,413.84 L366.4,414 L366.42,414.17 L366.45,414.33 L366.47,414.5 L366.5,414.66 L366.52,414.82 L366.55,414.98 L366.57,415.14 L366.59,415.3 L366.62,415.47 L366.64,415.64 L366.66,415.81 L366.69,415.98 L366.71,416.16 L366.74,416.35 L366.76,416.54 L366.79,416.74 L366.81,416.95 L366.84,417.17 L366.86,417.39 L366.89,417.63 L366.92,417.88 L366.94,418.14 L366.97,418.41 L367,418.7M367.8,428.1 L367.84,428.47 L367.88,428.84 L367.93,429.21 L367.97,429.58 L368.02,429.95 L368.07,430.31 L368.11,430.68 L368.16,431.04 L368.21,431.41 L368.26,431.77 L368.31,432.13 L368.36,432.48 L368.41,432.83 L368.46,433.19 L368.51,433.53 L368.56,433.88 L368.61,434.22 L368.65,434.56 L368.7,434.89 L368.74,435.22 L368.78,435.55 L368.82,435.87 L368.86,436.19 L368.9,436.5M370.09,445.28 L370.14,445.38 L370.18,445.47 L370.23,445.57 L370.28,445.66 L370.33,445.74 L370.39,445.83 L370.44,445.92 L370.5,446 L370.56,446.08 L370.62,446.17 L370.69,446.26 L370.76,446.35 L370.84,446.44 L370.91,446.53 L370.99,446.62 L371.07,446.7 L371.16,446.79 L371.24,446.86 L371.32,446.93 L371.41,447 L371.49,447.06 L371.57,447.11 L371.66,447.15 L371.74,447.19 L371.82,447.21 L371.89,447.22 L371.97,447.22 L372.04,447.2 L372.11,447.18 L372.18,447.13 L372.24,447.07 L372.3,447 L372.36,446.91 L372.41,446.79M372.82,444.95 L372.83,444.89 L372.87,444.65 L372.9,444.4 L372.93,444.15 L372.96,443.9 L372.99,443.65 L373.02,443.4 L373.05,443.16 L373.08,442.91 L373.11,442.68 L373.14,442.44 L373.17,442.22 L373.2,442 L373.23,441.79 L373.26,441.58 L373.28,441.37 L373.3,441.17 L373.33,440.96 L373.35,440.76 L373.37,440.56 L373.39,440.36 L373.41,440.15 L373.43,439.95 L373.44,439.74 L373.46,439.54 L373.48,439.33 L373.5,439.12 L373.52,438.91 L373.53,438.69M373.7,436.8 L373.73,436.54 L373.75,436.28 L373.78,436.02 L373.81,435.75 L373.83,435.48 L373.86,435.21 L373.89,434.94 L373.92,434.66 L373.95,434.38 L373.98,434.09 L374.01,433.81 L374.04,433.51 L374.07,433.22 L374.1,432.91 L374.13,432.61 L374.16,432.3 L374.19,431.98 L374.22,431.66 L374.25,431.33 L374.28,431 L374.31,430.66 L374.34,430.31 L374.37,429.96 L374.4,429.6M374.55,427.64 L374.55,427.57 L374.58,427.13 L374.61,426.67 L374.64,426.21 L374.68,425.74 L374.71,425.27 L374.74,424.8 L374.77,424.33 L374.8,423.86 L374.83,423.39 L374.86,422.93 L374.89,422.48 L374.92,422.04 L374.95,421.61 L374.96,421.36M375.1,419.4 L375.12,419.11 L375.14,418.86 L375.16,418.63 L375.18,418.43 L375.2,418.25 L375.21,418.09 L375.23,417.95 L375.24,417.82 L375.25,417.7 L375.27,417.59 L375.28,417.48 L375.29,417.37 L375.31,417.26 L375.32,417.15 L375.33,417.02 L375.35,416.89 L375.36,416.74 L375.38,416.57 L375.4,416.38 L375.41,416.16 L375.43,415.92 L375.45,415.65 L375.48,415.34 L375.5,415 L375.53,414.62 L375.55,414.2 L375.58,413.75 L375.61,413.26 L375.64,412.75 L375.67,412.21 L375.71,411.66M375.82,409.77 L375.85,409.28 L375.88,408.66 L375.92,408.04 L375.95,407.43 L375.99,406.81 L376.03,406.21 L376.06,405.61 L376.1,405.03 L376.13,404.46 L376.17,403.92 L376.2,403.48M376.33,401.6 L376.36,401.22 L376.39,400.86 L376.42,400.52 L376.45,400.2 L376.48,399.9 L376.51,399.61 L376.54,399.33 L376.57,399.07 L376.59,398.81 L376.62,398.56 L376.65,398.31 L376.68,398.07 L376.71,397.83 L376.73,397.58 L376.76,397.33 L376.79,397.08 L376.82,396.82 L376.85,396.55 L376.88,396.27 L376.91,395.98 L376.94,395.67 L376.97,395.34 L377,395M377.77,385.37 L377.8,385 L377.83,384.65 L377.86,384.31 L377.88,383.99 L377.91,383.68 L377.93,383.38 L377.95,383.09 L377.97,382.81 L378,382.53 L378.02,382.26 L378.04,381.99 L378.06,381.72 L378.08,381.46 L378.1,381.19 L378.12,380.92 L378.15,380.64 L378.17,380.36 L378.19,380.07 L378.22,379.77 L378.25,379.46 L378.27,379.14 L378.3,378.8 L378.33,378.45 L378.37,378.09 L378.4,377.7 L378.44,377.3 L378.47,376.87 L378.51,376.44M378.87,372.32 L378.89,372.02 L378.94,371.5 L378.99,370.98 L379.04,370.46 L379.09,369.94 L379.13,369.42 L379.19,368.91 L379.24,368.4 L379.29,367.9 L379.34,367.41 L379.39,366.93 L379.45,366.46 L379.49,366.05M380.05,361.95 L380.06,361.9 L380.12,361.45 L380.19,361.01 L380.26,360.57 L380.32,360.14 L380.39,359.71 L380.46,359.29 L380.52,358.89 L380.59,358.48 L380.65,358.09 L380.71,357.71 L380.77,357.35 L380.83,356.99 L380.89,356.65 L380.95,356.32 L381,356 L381.05,355.73M381.88,351.68 L381.94,351.45 L382,351.2 L382.07,350.94 L382.14,350.66 L382.22,350.38 L382.3,350.08 L382.38,349.78 L382.47,349.47 L382.56,349.16 L382.65,348.83 L382.74,348.51 L382.84,348.18 L382.93,347.84 L383.03,347.51 L383.13,347.17 L383.23,346.83 L383.33,346.49 L383.43,346.16 L383.53,345.82 L383.63,345.49 L383.73,345.16 L383.83,344.84 L383.92,344.52 L384.02,344.2 L384.11,343.9 L384.2,343.6M386.3,337.1 L386.43,336.85 L386.56,336.61 L386.7,336.36 L386.84,336.12 L386.99,335.89 L387.14,335.65 L387.29,335.42 L387.45,335.19 L387.61,334.96 L387.78,334.73 L387.94,334.51 L388.11,334.28 L388.28,334.06 L388.46,333.83 L388.63,333.61 L388.8,333.39 L388.98,333.17 L389.15,332.94 L389.33,332.72 L389.51,332.5 L389.68,332.28 L389.86,332.05 L390.03,331.83 L390.2,331.6M394.5,326.2 L394.69,326 L394.88,325.81 L395.07,325.62 L395.26,325.43 L395.45,325.25 L395.64,325.08 L395.83,324.91 L396.03,324.74 L396.22,324.57 L396.41,324.4 L396.61,324.24 L396.81,324.07 L397.01,323.9 L397.21,323.73 L397.41,323.56 L397.62,323.39 L397.83,323.21 L398.04,323.02 L398.26,322.84 L398.48,322.64 L398.7,322.44 L398.93,322.24 L399.16,322.02 L399.4,321.8M406.21,315.1 L406.41,314.92 L406.6,314.75 L406.77,314.59 L406.93,314.43 L407.08,314.29 L407.23,314.16 L407.37,314.03 L407.51,313.91 L407.64,313.79 L407.77,313.67 L407.9,313.56 L408.03,313.45 L408.17,313.34 L408.31,313.23 L408.45,313.11 L408.6,313 L408.77,312.88 L408.94,312.75 L409.12,312.62 L409.32,312.48 L409.53,312.33 L409.76,312.17 L410,312 L410.26,311.82 L410.55,311.63M415.19,308.62 L415.56,308.39 L415.93,308.17 L416.29,307.96 L416.64,307.75 L416.98,307.56 L417.31,307.37 L417.62,307.2 L417.92,307.04 L418.2,306.9 L418.47,306.77 L418.72,306.65 L418.96,306.54 L419.2,306.44 L419.42,306.35 L419.64,306.27 L419.85,306.19 L420.05,306.13 L420.25,306.06 L420.44,306.01M426.5,305.04 L426.79,305.03 L427.1,305.02 L427.44,305.01 L427.8,305 L428.2,304.99 L428.63,304.98 L429.1,304.98 L429.6,304.98 L430.13,304.98 L430.68,304.98 L431.25,304.98 L431.84,304.98 L432.44,304.99 L433.06,304.99M434.95,305.01 L435.58,305.01 L436.21,305.01 L436.83,305.02 L437.44,305.02 L438.04,305.02 L438.63,305.02 L439.19,305.02 L439.73,305.02 L440.25,305.02 L440.74,305.01M446.05,304.73 L446.34,304.71 L446.63,304.69 L446.92,304.66 L447.2,304.64 L447.49,304.61 L447.78,304.59 L448.08,304.57 L448.38,304.54 L448.69,304.52 L449,304.5 L449.31,304.48 L449.62,304.45 L449.91,304.43 L450.2,304.4 L450.48,304.37 L450.76,304.34 L451.03,304.31 L451.3,304.28 L451.58,304.25 L451.85,304.22 L452.12,304.19 L452.4,304.16 L452.68,304.13M457.42,304.03 L457.92,304.06 L458.43,304.08 L458.96,304.12 L459.51,304.15 L460.08,304.19 L460.65,304.24 L461.24,304.28 L461.83,304.33 L462.43,304.38M469.4,304.96 L469.9,305 L470.39,305.03 L470.87,305.07 L471.35,305.1 L471.82,305.13 L472.29,305.16 L472.75,305.19 L473.21,305.22 L473.66,305.25 L474.11,305.28 L474.55,305.3 L474.98,305.33 L475.41,305.36 L475.83,305.38 L476.25,305.41 L476.66,305.43 L477.06,305.45 L477.45,305.47 L477.84,305.49 L478.22,305.51 L478.59,305.53 L478.96,305.55 L479.31,305.57 L479.66,305.58 L480,305.6M486.43,305.73 L486.88,305.76 L487.35,305.79 L487.85,305.82 L488.36,305.86 L488.9,305.9 L489.44,305.94 L490.01,305.98 L490.58,306.02 L491.18,306.07 L491.78,306.11 L492.39,306.16 L493.01,306.21M496.83,306.53 L497.47,306.58 L498.11,306.64 L498.74,306.69 L499.38,306.75 L500,306.8 L500.64,306.86 L501.3,306.92 L502,306.98 L502.71,307.04M508.02,307.55 L508.77,307.62 L509.52,307.69 L510.25,307.76 L510.95,307.83 L511.64,307.9 L512.29,307.96 L512.92,308.02 L513.51,308.08 L514.06,308.13 L514.57,308.18 L515.03,308.23 L515.44,308.27" fill="none" stroke="#111" stroke-width="2" stroke-linejoin="round" clip-path="url(#pd)"/>
<path d="M317.7,293.3C318.52,293.35 321.02,293.4 322.6,293.6C324.18,293.8 325.78,294.1 327.2,294.5C328.62,294.9 329.95,295.37 331.1,296C332.25,296.63 333.22,297.4 334.1,298.3C334.98,299.2 335.7,300.13 336.4,301.4C337.1,302.67 337.72,303.97 338.3,305.9C338.88,307.83 339.45,310.18 339.9,313C340.35,315.82 340.57,318.88 341,322.8C341.43,326.72 342.03,332.63 342.5,336.5C342.97,340.37 343.42,343.5 343.8,346C344.18,348.5 344.43,349.92 344.8,351.5C345.17,353.08 345.58,354.53 346,355.5C346.42,356.47 346.88,357.22 347.3,357.3C347.72,357.38 348.05,356.8 348.5,356C348.95,355.2 349.42,354 350,352.5C350.58,351 351.2,349.15 352,347C352.8,344.85 354,341.52 354.8,339.6C355.6,337.68 356.17,336.4 356.8,335.5C357.43,334.6 358.07,334.12 358.6,334.2C359.13,334.28 359.62,335.37 360,336C360.38,336.63 360.48,336.33 360.9,338C361.32,339.67 361.98,343.17 362.5,346C363.02,348.83 363.5,350.85 364,355C364.5,359.15 364.95,365.9 365.5,370.9C366.05,375.9 366.7,380.45 367.3,385C367.9,389.55 368.57,394.37 369.1,398.2C369.63,402.03 370.05,405.43 370.5,408C370.95,410.57 371.38,413.43 371.8,413.6C372.22,413.77 372.55,411.27 373,409C373.45,406.73 374,403.83 374.5,400C375,396.17 375.53,390.55 376,386C376.47,381.45 376.95,376.7 377.3,372.7C377.65,368.7 377.87,365.03 378.1,362C378.33,358.97 378.42,357.93 378.7,354.5C378.98,351.07 379.35,345.03 379.8,341.4C380.25,337.77 380.67,335.42 381.4,332.7C382.13,329.98 383.02,327.65 384.2,325.1C385.38,322.55 386.87,319.77 388.5,317.4C390.13,315.03 392,312.9 394,310.9C396,308.9 398.15,307.22 400.5,305.4C402.85,303.58 406.1,301.48 408.1,300C410.1,298.52 411.02,297.58 412.5,296.5C413.98,295.42 415.4,294.33 417,293.5C418.6,292.67 420.27,292 422.1,291.5C423.93,291 426.1,290.7 428,290.5C429.9,290.3 431.5,290.28 433.5,290.3C435.5,290.32 437.77,290.48 440,290.6C442.23,290.72 443.52,290.83 446.9,291C450.28,291.17 456.45,291.38 460.3,291.6C464.15,291.82 465.72,292 470,292.3C474.28,292.6 481,293.08 486,293.4C491,293.72 495.03,293.92 500,294.2C504.97,294.48 513.17,294.95 515.8,295.1" fill="none" stroke="#e22a12" stroke-width="1.45" stroke-linejoin="round" clip-path="url(#pd)"/>
<path d="M317.7,290.6C318.27,290.55 319.9,290.3 321.1,290.3C322.3,290.3 323.62,290.43 324.9,290.6C326.18,290.77 327.72,291.25 328.8,291.3C329.88,291.35 330.52,290.82 331.4,290.9C332.28,290.98 333.13,291.33 334.1,291.8C335.07,292.27 336.37,292.93 337.2,293.7C338.03,294.47 338.6,295.38 339.1,296.4C339.6,297.42 339.88,298.33 340.2,299.8C340.52,301.27 340.73,303 341,305.2C341.27,307.4 341.53,310.2 341.8,313C342.07,315.8 342.35,319.17 342.6,322C342.85,324.83 343.05,327.25 343.3,330C343.55,332.75 343.82,335.67 344.1,338.5C344.38,341.33 344.68,344.25 345,347C345.32,349.75 345.67,352.33 346,355C346.33,357.67 346.63,360.7 347,363C347.37,365.3 347.82,368.05 348.2,368.8C348.58,369.55 348.92,368.3 349.3,367.5C349.68,366.7 350.05,365.25 350.5,364C350.95,362.75 351.42,361.83 352,360C352.58,358.17 353.28,355.63 354,353C354.72,350.37 355.58,346.37 356.3,344.2C357.02,342.03 357.67,340.9 358.3,340C358.93,339.1 359.62,338.72 360.1,338.8C360.58,338.88 360.82,339.6 361.2,340.5C361.58,341.4 362.02,342.62 362.4,344.2C362.78,345.78 363.12,347.97 363.5,350C363.88,352.03 364.28,353.73 364.7,356.4C365.12,359.07 365.57,362.67 366,366C366.43,369.33 366.8,372.07 367.3,376.4C367.8,380.73 368.4,386.55 369,392C369.6,397.45 370.32,403.6 370.9,409.1C371.48,414.6 372.05,420.77 372.5,425C372.95,429.23 373.22,434.5 373.6,434.5C373.98,434.5 374.33,428.63 374.8,425C375.27,421.37 375.92,417.7 376.4,412.7C376.88,407.7 377.32,400.45 377.7,395C378.08,389.55 378.42,384.17 378.7,380C378.98,375.83 379.22,373.33 379.4,370C379.58,366.67 379.55,363.5 379.8,360C380.05,356.5 380.45,352.28 380.9,349C381.35,345.72 381.77,343.2 382.5,340.3C383.23,337.4 384.12,334.5 385.3,331.6C386.48,328.7 387.97,325.45 389.6,322.9C391.23,320.35 393.1,318.48 395.1,316.3C397.1,314.12 399.25,311.78 401.6,309.8C403.95,307.82 407.07,306.28 409.2,304.4C411.33,302.52 412.77,300.07 414.4,298.5C416.03,296.93 417.4,295.95 419,295C420.6,294.05 422.5,293.33 424,292.8C425.5,292.27 426.42,292 428,291.8C429.58,291.6 431.5,291.57 433.5,291.6C435.5,291.63 437.77,291.83 440,292C442.23,292.17 443.52,292.25 446.9,292.6C450.28,292.95 456.45,293.7 460.3,294.1C464.15,294.5 466.72,294.75 470,295C473.28,295.25 477.33,295.38 480,295.6C482.67,295.82 482.67,295.97 486,296.3C489.33,296.63 495.03,297.18 500,297.6C504.97,298.02 513.17,298.6 515.8,298.8" fill="none" stroke="#ff8a00" stroke-width="1.55" stroke-linejoin="round" clip-path="url(#pd)"/>
<path d="M317.7,285.8C319.75,285.8 327.28,285.73 330,285.8C332.72,285.87 332.93,285.97 334,286.2C335.07,286.43 335.62,286.9 336.4,287.2C337.18,287.5 338.07,287.55 338.7,288C339.33,288.45 339.75,289.08 340.2,289.9C340.65,290.72 341.07,291.5 341.4,292.9C341.73,294.3 341.95,296.12 342.2,298.3C342.45,300.48 342.68,303.55 342.9,306C343.12,308.45 343.28,310.33 343.5,313C343.72,315.67 343.98,319.17 344.2,322C344.42,324.83 344.58,327.33 344.8,330C345.02,332.67 345.25,335.63 345.5,338C345.75,340.37 346.05,342.12 346.3,344.2C346.55,346.28 346.73,348.47 347,350.5C347.27,352.53 347.65,355.23 347.9,356.4C348.15,357.57 348.23,357.73 348.5,357.5C348.77,357.27 348.97,356.72 349.5,355C350.03,353.28 351.03,349.53 351.7,347.2C352.37,344.87 352.87,343.03 353.5,341C354.13,338.97 354.83,336.92 355.5,335C356.17,333.08 356.92,330.73 357.5,329.5C358.08,328.27 358.55,327.77 359,327.6C359.45,327.43 359.88,328.03 360.2,328.5C360.52,328.97 360.6,329.32 360.9,330.4C361.2,331.48 361.62,333.22 362,335C362.38,336.78 362.78,338.27 363.2,341.1C363.62,343.93 364.12,348.52 364.5,352C364.88,355.48 365.08,358.17 365.5,362C365.92,365.83 366.4,370.18 367,375C367.6,379.82 368.52,387.07 369.1,390.9C369.68,394.73 369.9,395.73 370.5,398C371.1,400.27 372.12,404.17 372.7,404.5C373.28,404.83 373.53,402.75 374,400C374.47,397.25 375.12,392.67 375.5,388C375.88,383.33 376.08,376.67 376.3,372C376.52,367.33 376.6,364 376.8,360C377,356 377.22,351.67 377.5,348C377.78,344.33 378.17,340.67 378.5,338C378.83,335.33 378.92,334.33 379.5,332C380.08,329.67 380.87,326.62 382,324C383.13,321.38 384.67,318.67 386.3,316.3C387.93,313.93 389.98,311.7 391.8,309.8C393.62,307.9 395.38,306.35 397.2,304.9C399.02,303.45 401.07,302.33 402.7,301.1C404.33,299.87 405.37,298.92 407,297.5C408.63,296.08 411,293.8 412.5,292.6C414,291.4 414.72,290.88 416,290.3C417.28,289.72 418.87,289.45 420.2,289.1C421.53,288.75 422.73,288.42 424,288.2C425.27,287.98 426.47,287.83 427.8,287.8C429.13,287.77 430.4,287.85 432,288C433.6,288.15 434.92,288.27 437.4,288.7C439.88,289.13 443.08,289.8 446.9,290.6C450.72,291.4 456.15,292.6 460.3,293.5C464.45,294.4 468.52,295.45 471.8,296C475.08,296.55 477.63,296.57 480,296.8C482.37,297.03 482.67,297.17 486,297.4C489.33,297.63 495.03,298.02 500,298.2C504.97,298.38 513.17,298.45 515.8,298.5" fill="none" stroke="#158c16" stroke-width="1.6" stroke-linejoin="round" clip-path="url(#pd)"/>
<line x1="317.7" y1="286.9" x2="515.8" y2="286.9" stroke="#666" stroke-width="1.5"/>
<line x1="515.8" y1="286.9" x2="515.8" y2="495.6" stroke="#666" stroke-width="1.1"/>
<line x1="317.7" y1="286.4" x2="317.7" y2="496.1" stroke="#222" stroke-width="1.2"/>
<line x1="317.2" y1="495.6" x2="516.3" y2="495.6" stroke="#333" stroke-width="1.1"/>
<line x1="314.9" y1="286.9" x2="317.7" y2="286.9" stroke="#333" stroke-width="0.9"/>
<line x1="316.1" y1="294.97" x2="317.7" y2="294.97" stroke="#333" stroke-width="0.8"/>
<line x1="316.1" y1="303.03" x2="317.7" y2="303.03" stroke="#333" stroke-width="0.8"/>
<line x1="316.1" y1="311.1" x2="317.7" y2="311.1" stroke="#333" stroke-width="0.8"/>
<line x1="314.9" y1="319.17" x2="317.7" y2="319.17" stroke="#333" stroke-width="0.9"/>
<line x1="316.1" y1="327.24" x2="317.7" y2="327.24" stroke="#333" stroke-width="0.8"/>
<line x1="316.1" y1="335.3" x2="317.7" y2="335.3" stroke="#333" stroke-width="0.8"/>
<line x1="316.1" y1="343.37" x2="317.7" y2="343.37" stroke="#333" stroke-width="0.8"/>
<line x1="314.9" y1="351.44" x2="317.7" y2="351.44" stroke="#333" stroke-width="0.9"/>
<line x1="316.1" y1="359.51" x2="317.7" y2="359.51" stroke="#333" stroke-width="0.8"/>
<line x1="316.1" y1="367.57" x2="317.7" y2="367.57" stroke="#333" stroke-width="0.8"/>
<line x1="316.1" y1="375.64" x2="317.7" y2="375.64" stroke="#333" stroke-width="0.8"/>
<line x1="314.9" y1="383.71" x2="317.7" y2="383.71" stroke="#333" stroke-width="0.9"/>
<line x1="316.1" y1="391.78" x2="317.7" y2="391.78" stroke="#333" stroke-width="0.8"/>
<line x1="316.1" y1="399.84" x2="317.7" y2="399.84" stroke="#333" stroke-width="0.8"/>
<line x1="316.1" y1="407.91" x2="317.7" y2="407.91" stroke="#333" stroke-width="0.8"/>
<line x1="314.9" y1="415.98" x2="317.7" y2="415.98" stroke="#333" stroke-width="0.9"/>
<line x1="316.1" y1="424.05" x2="317.7" y2="424.05" stroke="#333" stroke-width="0.8"/>
<line x1="316.1" y1="432.12" x2="317.7" y2="432.12" stroke="#333" stroke-width="0.8"/>
<line x1="316.1" y1="440.18" x2="317.7" y2="440.18" stroke="#333" stroke-width="0.8"/>
<line x1="314.9" y1="448.25" x2="317.7" y2="448.25" stroke="#333" stroke-width="0.9"/>
<line x1="316.1" y1="456.32" x2="317.7" y2="456.32" stroke="#333" stroke-width="0.8"/>
<line x1="316.1" y1="464.38" x2="317.7" y2="464.38" stroke="#333" stroke-width="0.8"/>
<line x1="316.1" y1="472.45" x2="317.7" y2="472.45" stroke="#333" stroke-width="0.8"/>
<line x1="314.9" y1="480.52" x2="317.7" y2="480.52" stroke="#333" stroke-width="0.9"/>
<line x1="316.1" y1="488.59" x2="317.7" y2="488.59" stroke="#333" stroke-width="0.8"/>
<line x1="316.1" y1="496.65" x2="317.7" y2="496.65" stroke="#333" stroke-width="0.8"/>
<text transform="translate(312.1,290.5) scale(0.85,1)" font-family="Liberation Sans" font-size="10" font-weight="normal" text-anchor="end" fill="#1a1a1a" stroke="#1a1a1a" stroke-width="0.26">0</text>
<text transform="translate(312.1,322.77) scale(0.85,1)" font-family="Liberation Sans" font-size="10" font-weight="normal" text-anchor="end" fill="#1a1a1a" stroke="#1a1a1a" stroke-width="0.26">-10</text>
<text transform="translate(312.1,355.04) scale(0.85,1)" font-family="Liberation Sans" font-size="10" font-weight="normal" text-anchor="end" fill="#1a1a1a" stroke="#1a1a1a" stroke-width="0.26">-20</text>
<text transform="translate(312.1,387.31) scale(0.85,1)" font-family="Liberation Sans" font-size="10" font-weight="normal" text-anchor="end" fill="#1a1a1a" stroke="#1a1a1a" stroke-width="0.26">-30</text>
<text transform="translate(312.1,419.58) scale(0.85,1)" font-family="Liberation Sans" font-size="10" font-weight="normal" text-anchor="end" fill="#1a1a1a" stroke="#1a1a1a" stroke-width="0.26">-40</text>
<text transform="translate(312.1,451.85) scale(0.85,1)" font-family="Liberation Sans" font-size="10" font-weight="normal" text-anchor="end" fill="#1a1a1a" stroke="#1a1a1a" stroke-width="0.26">-50</text>
<text transform="translate(312.1,484.12) scale(0.85,1)" font-family="Liberation Sans" font-size="10" font-weight="normal" text-anchor="end" fill="#1a1a1a" stroke="#1a1a1a" stroke-width="0.26">-60</text>
<line x1="317.61" y1="495.6" x2="317.61" y2="497.2" stroke="#333" stroke-width="0.8"/>
<line x1="323.11" y1="495.6" x2="323.11" y2="497.2" stroke="#333" stroke-width="0.8"/>
<line x1="328.6" y1="495.6" x2="328.6" y2="498.6" stroke="#333" stroke-width="0.9"/>
<line x1="334.1" y1="495.6" x2="334.1" y2="497.2" stroke="#333" stroke-width="0.8"/>
<line x1="339.59" y1="495.6" x2="339.59" y2="497.2" stroke="#333" stroke-width="0.8"/>
<line x1="345.09" y1="495.6" x2="345.09" y2="497.2" stroke="#333" stroke-width="0.8"/>
<line x1="350.58" y1="495.6" x2="350.58" y2="498.6" stroke="#333" stroke-width="0.9"/>
<line x1="356.08" y1="495.6" x2="356.08" y2="497.2" stroke="#333" stroke-width="0.8"/>
<line x1="361.57" y1="495.6" x2="361.57" y2="497.2" stroke="#333" stroke-width="0.8"/>
<line x1="367.06" y1="495.6" x2="367.06" y2="497.2" stroke="#333" stroke-width="0.8"/>
<line x1="372.56" y1="495.6" x2="372.56" y2="498.6" stroke="#333" stroke-width="0.9"/>
<line x1="378.06" y1="495.6" x2="378.06" y2="497.2" stroke="#333" stroke-width="0.8"/>
<line x1="383.55" y1="495.6" x2="383.55" y2="497.2" stroke="#333" stroke-width="0.8"/>
<line x1="389.05" y1="495.6" x2="389.05" y2="497.2" stroke="#333" stroke-width="0.8"/>
<line x1="394.54" y1="495.6" x2="394.54" y2="498.6" stroke="#333" stroke-width="0.9"/>
<line x1="400.04" y1="495.6" x2="400.04" y2="497.2" stroke="#333" stroke-width="0.8"/>
<line x1="405.53" y1="495.6" x2="405.53" y2="497.2" stroke="#333" stroke-width="0.8"/>
<line x1="411.03" y1="495.6" x2="411.03" y2="497.2" stroke="#333" stroke-width="0.8"/>
<line x1="416.52" y1="495.6" x2="416.52" y2="498.6" stroke="#333" stroke-width="0.9"/>
<line x1="422.01" y1="495.6" x2="422.01" y2="497.2" stroke="#333" stroke-width="0.8"/>
<line x1="427.51" y1="495.6" x2="427.51" y2="497.2" stroke="#333" stroke-width="0.8"/>
<line x1="433" y1="495.6" x2="433" y2="497.2" stroke="#333" stroke-width="0.8"/>
<line x1="438.5" y1="495.6" x2="438.5" y2="498.6" stroke="#333" stroke-width="0.9"/>
<line x1="444" y1="495.6" x2="444" y2="497.2" stroke="#333" stroke-width="0.8"/>
<line x1="449.49" y1="495.6" x2="449.49" y2="497.2" stroke="#333" stroke-width="0.8"/>
<line x1="454.99" y1="495.6" x2="454.99" y2="497.2" stroke="#333" stroke-width="0.8"/>
<line x1="460.48" y1="495.6" x2="460.48" y2="498.6" stroke="#333" stroke-width="0.9"/>
<line x1="465.98" y1="495.6" x2="465.98" y2="497.2" stroke="#333" stroke-width="0.8"/>
<line x1="471.47" y1="495.6" x2="471.47" y2="497.2" stroke="#333" stroke-width="0.8"/>
<line x1="476.97" y1="495.6" x2="476.97" y2="497.2" stroke="#333" stroke-width="0.8"/>
<line x1="482.46" y1="495.6" x2="482.46" y2="498.6" stroke="#333" stroke-width="0.9"/>
<line x1="487.96" y1="495.6" x2="487.96" y2="497.2" stroke="#333" stroke-width="0.8"/>
<line x1="493.45" y1="495.6" x2="493.45" y2="497.2" stroke="#333" stroke-width="0.8"/>
<line x1="498.95" y1="495.6" x2="498.95" y2="497.2" stroke="#333" stroke-width="0.8"/>
<line x1="504.44" y1="495.6" x2="504.44" y2="498.6" stroke="#333" stroke-width="0.9"/>
<line x1="509.94" y1="495.6" x2="509.94" y2="497.2" stroke="#333" stroke-width="0.8"/>
<line x1="515.43" y1="495.6" x2="515.43" y2="497.2" stroke="#333" stroke-width="0.8"/>
<text transform="translate(328.6,511.3) scale(0.86,1)" font-family="Liberation Sans" font-size="10" font-weight="normal" text-anchor="middle" fill="#1a1a1a" stroke="#1a1a1a" stroke-width="0.26">400</text>
<text transform="translate(350.58,511.3) scale(0.86,1)" font-family="Liberation Sans" font-size="10" font-weight="normal" text-anchor="middle" fill="#1a1a1a" stroke="#1a1a1a" stroke-width="0.26">500</text>
<text transform="translate(372.56,511.3) scale(0.86,1)" font-family="Liberation Sans" font-size="10" font-weight="normal" text-anchor="middle" fill="#1a1a1a" stroke="#1a1a1a" stroke-width="0.26">600</text>
<text transform="translate(394.54,511.3) scale(0.86,1)" font-family="Liberation Sans" font-size="10" font-weight="normal" text-anchor="middle" fill="#1a1a1a" stroke="#1a1a1a" stroke-width="0.26">700</text>
<text transform="translate(416.52,511.3) scale(0.86,1)" font-family="Liberation Sans" font-size="10" font-weight="normal" text-anchor="middle" fill="#1a1a1a" stroke="#1a1a1a" stroke-width="0.26">800</text>
<text transform="translate(438.5,511.3) scale(0.86,1)" font-family="Liberation Sans" font-size="10" font-weight="normal" text-anchor="middle" fill="#1a1a1a" stroke="#1a1a1a" stroke-width="0.26">900</text>
<text transform="translate(460.48,511.3) scale(0.86,1)" font-family="Liberation Sans" font-size="10" font-weight="normal" text-anchor="middle" fill="#1a1a1a" stroke="#1a1a1a" stroke-width="0.26">1000</text>
<text transform="translate(482.46,511.3) scale(0.86,1)" font-family="Liberation Sans" font-size="10" font-weight="normal" text-anchor="middle" fill="#1a1a1a" stroke="#1a1a1a" stroke-width="0.26">1100</text>
<text transform="translate(504.44,511.3) scale(0.86,1)" font-family="Liberation Sans" font-size="10" font-weight="normal" text-anchor="middle" fill="#1a1a1a" stroke="#1a1a1a" stroke-width="0.26">1200</text>
<rect x="103.95" y="42" width="1.3" height="11.2" fill="#111"/>
<rect x="107.65" y="42" width="1.3" height="11.2" fill="#111"/>
<rect x="110.85" y="42" width="1.3" height="11.2" fill="#111"/>
<line x1="114" y1="48.9" x2="117.8" y2="48.9" stroke="#8a8a8a" stroke-width="1"/>
<path d="M117.4,47.4 L121.2,48.9 L117.4,50.4 Z" fill="#111"/>
<rect x="79.45" y="142.1" width="1.6" height="10.9" fill="#111"/>
<rect x="109.1" y="207.4" width="1.6" height="11.1" fill="#111"/>
<rect x="112.6" y="207.4" width="1.6" height="11.1" fill="#111"/>
<rect x="202.4" y="15.6" width="17.6" height="18.8" rx="1" fill="none" stroke="#f7962a" stroke-width="1.2"/>
<line x1="202.4" y1="15.6" x2="136.9" y2="70.8" stroke="#f7962a" stroke-width="1.1"/>
<line x1="220" y1="15.6" x2="233" y2="70.8" stroke="#f7962a" stroke-width="1.1"/>
<rect x="136.9" y="70.8" width="96.1" height="143.2" rx="1.5" fill="#fff" stroke="#f7962a" stroke-width="1.4"/>
<clipPath id="ic"><rect x="148.5" y="74.7" width="78.1" height="122.5"/></clipPath>
<path d="M150.3,187.4C150.58,186.33 151.37,182.77 152,181C152.63,179.23 153.27,177.97 154.1,176.8C154.93,175.63 156.03,174.63 157,174C157.97,173.37 158.93,173.08 159.9,173C160.87,172.92 161.85,173.18 162.8,173.5C163.75,173.82 164.65,174.4 165.6,174.9C166.55,175.4 167.55,176.02 168.5,176.5C169.45,176.98 170.5,177.75 171.3,177.8C172.1,177.85 172.65,177.28 173.3,176.8C173.95,176.32 174.42,175.9 175.2,174.9C175.98,173.9 177.05,172.07 178,170.8C178.95,169.53 179.78,168.05 180.9,167.3C182.02,166.55 183.43,166.35 184.7,166.3C185.97,166.25 187.22,166.68 188.5,167C189.78,167.32 190.98,167.7 192.4,168.2C193.82,168.7 195.42,169.3 197,170C198.58,170.7 200.28,171.7 201.9,172.4C203.52,173.1 205.1,173.62 206.7,174.2C208.3,174.78 209.95,175.47 211.5,175.9C213.05,176.33 214.42,176.55 216,176.8C217.58,177.05 219.23,177.07 221,177.4C222.77,177.73 225.67,178.57 226.6,178.8" fill="none" stroke="#333" stroke-width="1.1" stroke-dasharray="1.1 1.1" clip-path="url(#ic)"/>
<path d="M149,197 L151,183 L153.2,169 L155,157 L157,145.5 L159,137 L161.3,128.5 L163.5,120 L166.1,112.3 L168.5,107.5 L171,104.1 L173,101.8 L175.1,100.1 L176.3,98.61 L177.5,97.6 L178.75,96.69 L180,95.7 L181.17,95.18 L182.33,94.99 L183.5,94.5 L184.77,94.31 L186.03,93.51 L187.3,93.6 L188.9,92.66 L190.5,92.6 L191.6,92.7 L192.7,91.98 L193.8,92 L195.13,91.83 L196.47,92.58 L197.8,92.2 L199.17,92.07 L200.53,92.3 L201.9,91.9 L203.27,91.75 L204.63,91.76 L206,91.5 L207.33,91.05 L208.67,91.35 L210,91.1 L211.25,91.18 L212.5,90.6 L214.1,90.3 L215.2,88.9 L215.8,88.5 L216.5,91.5 L217.5,93 L218.65,93.72 L219.8,94.4 L221.4,94.32 L223,93.8 L224.2,93.95 L225.4,93.41 L226.6,93.8" fill="none" stroke="#ff1a1a" stroke-width="1.35" stroke-linejoin="round" clip-path="url(#ic)"/>
<path d="M149,197 L151,183 L153.2,169 L155,157 L157,145.5 L159,137 L161.3,128.5 L163.5,120.5 L166.1,113.5 L169.4,107.6 L171,105.94 L172.6,104.6 L173.85,103.64 L175.1,103.3 L176.3,102.39 L177.5,101.2 L178.75,99.92 L180,99.4 L181.17,99.3 L182.33,99.01 L183.5,99 L184.77,98.57 L186.03,98.94 L187.3,98.9 L188.6,98.48 L189.9,98.84 L191.2,98.51 L192.5,98.53 L193.8,98.9 L194.96,98.83 L196.11,99.19 L197.27,98.56 L198.43,98.65 L199.59,99.01 L200.74,99.3 L201.9,98.9 L203.27,98.87 L204.63,98.61 L206,98.6 L207.33,98.96 L208.67,98.06 L210,98.4 L211.37,98.46 L212.73,97.68 L214.1,97.6 L215,92 L215.5,87.8 L216.2,93 L217.2,97.5 L219,102.3 L221,102 L223,101.7 L224.2,101.65 L225.4,101.89 L226.6,102.5" fill="none" stroke="#1a1aff" stroke-width="1.35" stroke-linejoin="round" clip-path="url(#ic)"/>
<line x1="148.5" y1="74.7" x2="226.6" y2="74.7" stroke="#8a8a8a" stroke-width="0.9"/>
<line x1="226.6" y1="74.7" x2="226.6" y2="197.2" stroke="#8a8a8a" stroke-width="0.9"/>
<line x1="148.5" y1="74.7" x2="148.5" y2="197.2" stroke="#555" stroke-width="0.9"/>
<line x1="148.5" y1="197.2" x2="226.6" y2="197.2" stroke="#555" stroke-width="0.9"/>
<line x1="148.5" y1="74.7" x2="148.5" y2="74.7" stroke="#555" stroke-width="0.6"/>
<line x1="147.3" y1="86.95" x2="148.5" y2="86.95" stroke="#555" stroke-width="0.6"/>
<line x1="148.5" y1="99.2" x2="148.5" y2="99.2" stroke="#555" stroke-width="0.6"/>
<line x1="147.3" y1="111.45" x2="148.5" y2="111.45" stroke="#555" stroke-width="0.6"/>
<line x1="148.5" y1="123.7" x2="148.5" y2="123.7" stroke="#555" stroke-width="0.6"/>
<line x1="147.3" y1="135.95" x2="148.5" y2="135.95" stroke="#555" stroke-width="0.6"/>
<line x1="148.5" y1="148.2" x2="148.5" y2="148.2" stroke="#555" stroke-width="0.6"/>
<line x1="147.3" y1="160.45" x2="148.5" y2="160.45" stroke="#555" stroke-width="0.6"/>
<line x1="148.5" y1="172.7" x2="148.5" y2="172.7" stroke="#555" stroke-width="0.6"/>
<line x1="147.3" y1="184.95" x2="148.5" y2="184.95" stroke="#555" stroke-width="0.6"/>
<line x1="148.5" y1="197.2" x2="148.5" y2="197.2" stroke="#555" stroke-width="0.6"/>
<line x1="146.9" y1="86.9" x2="148.5" y2="86.9" stroke="#444" stroke-width="0.6"/>
<text transform="translate(146.5,86.9) rotate(-90)" font-family="Liberation Sans" font-size="5.2" text-anchor="middle" fill="#222">-2</text>
<line x1="146.9" y1="111.4" x2="148.5" y2="111.4" stroke="#444" stroke-width="0.6"/>
<text transform="translate(146.5,111.4) rotate(-90)" font-family="Liberation Sans" font-size="5.2" text-anchor="middle" fill="#222">-3</text>
<line x1="146.9" y1="135.9" x2="148.5" y2="135.9" stroke="#444" stroke-width="0.6"/>
<text transform="translate(146.5,135.9) rotate(-90)" font-family="Liberation Sans" font-size="5.2" text-anchor="middle" fill="#222">-4</text>
<line x1="146.9" y1="160.4" x2="148.5" y2="160.4" stroke="#444" stroke-width="0.6"/>
<text transform="translate(146.5,160.4) rotate(-90)" font-family="Liberation Sans" font-size="5.2" text-anchor="middle" fill="#222">-5</text>
<line x1="146.9" y1="184.9" x2="148.5" y2="184.9" stroke="#444" stroke-width="0.6"/>
<text transform="translate(146.5,184.9) rotate(-90)" font-family="Liberation Sans" font-size="5.2" text-anchor="middle" fill="#222">-6</text>
<line x1="148.5" y1="197.2" x2="148.5" y2="198.6" stroke="#444" stroke-width="0.6"/>
<text x="148.5" y="204.3" font-family="Liberation Sans" font-size="5.2" text-anchor="middle" fill="#111" stroke="#111" stroke-width="0.12" textLength="7.6" lengthAdjust="spacingAndGlyphs">800</text>
<line x1="159.66" y1="197.2" x2="159.66" y2="198.6" stroke="#444" stroke-width="0.6"/>
<text x="159.66" y="204.3" font-family="Liberation Sans" font-size="5.2" text-anchor="middle" fill="#111" stroke="#111" stroke-width="0.12" textLength="7.6" lengthAdjust="spacingAndGlyphs">850</text>
<line x1="170.81" y1="197.2" x2="170.81" y2="198.6" stroke="#444" stroke-width="0.6"/>
<text x="170.81" y="204.3" font-family="Liberation Sans" font-size="5.2" text-anchor="middle" fill="#111" stroke="#111" stroke-width="0.12" textLength="7.6" lengthAdjust="spacingAndGlyphs">900</text>
<line x1="181.97" y1="197.2" x2="181.97" y2="198.6" stroke="#444" stroke-width="0.6"/>
<text x="181.97" y="204.3" font-family="Liberation Sans" font-size="5.2" text-anchor="middle" fill="#111" stroke="#111" stroke-width="0.12" textLength="7.6" lengthAdjust="spacingAndGlyphs">950</text>
<line x1="193.13" y1="197.2" x2="193.13" y2="198.6" stroke="#444" stroke-width="0.6"/>
<text x="193.13" y="204.3" font-family="Liberation Sans" font-size="5.2" text-anchor="middle" fill="#111" stroke="#111" stroke-width="0.12" textLength="10.2" lengthAdjust="spacingAndGlyphs">1000</text>
<line x1="204.29" y1="197.2" x2="204.29" y2="198.6" stroke="#444" stroke-width="0.6"/>
<text x="204.29" y="204.3" font-family="Liberation Sans" font-size="5.2" text-anchor="middle" fill="#111" stroke="#111" stroke-width="0.12" textLength="10.2" lengthAdjust="spacingAndGlyphs">1050</text>
<line x1="215.44" y1="197.2" x2="215.44" y2="198.6" stroke="#444" stroke-width="0.6"/>
<text x="215.44" y="204.3" font-family="Liberation Sans" font-size="5.2" text-anchor="middle" fill="#111" stroke="#111" stroke-width="0.12" textLength="10.2" lengthAdjust="spacingAndGlyphs">1100</text>
<line x1="226.6" y1="197.2" x2="226.6" y2="198.6" stroke="#444" stroke-width="0.6"/>
<text x="226.6" y="204.3" font-family="Liberation Sans" font-size="5.2" text-anchor="middle" fill="#111" stroke="#111" stroke-width="0.12" textLength="10.2" lengthAdjust="spacingAndGlyphs">1150</text>
<line x1="148.5" y1="197.2" x2="148.5" y2="198" stroke="#444" stroke-width="0.5"/>
<line x1="151.29" y1="197.2" x2="151.29" y2="198" stroke="#444" stroke-width="0.5"/>
<line x1="154.08" y1="197.2" x2="154.08" y2="198" stroke="#444" stroke-width="0.5"/>
<line x1="156.87" y1="197.2" x2="156.87" y2="198" stroke="#444" stroke-width="0.5"/>
<line x1="159.66" y1="197.2" x2="159.66" y2="198" stroke="#444" stroke-width="0.5"/>
<line x1="162.45" y1="197.2" x2="162.45" y2="198" stroke="#444" stroke-width="0.5"/>
<line x1="165.24" y1="197.2" x2="165.24" y2="198" stroke="#444" stroke-width="0.5"/>
<line x1="168.03" y1="197.2" x2="168.03" y2="198" stroke="#444" stroke-width="0.5"/>
<line x1="170.81" y1="197.2" x2="170.81" y2="198" stroke="#444" stroke-width="0.5"/>
<line x1="173.6" y1="197.2" x2="173.6" y2="198" stroke="#444" stroke-width="0.5"/>
<line x1="176.39" y1="197.2" x2="176.39" y2="198" stroke="#444" stroke-width="0.5"/>
<line x1="179.18" y1="197.2" x2="179.18" y2="198" stroke="#444" stroke-width="0.5"/>
<line x1="181.97" y1="197.2" x2="181.97" y2="198" stroke="#444" stroke-width="0.5"/>
<line x1="184.76" y1="197.2" x2="184.76" y2="198" stroke="#444" stroke-width="0.5"/>
<line x1="187.55" y1="197.2" x2="187.55" y2="198" stroke="#444" stroke-width="0.5"/>
<line x1="190.34" y1="197.2" x2="190.34" y2="198" stroke="#444" stroke-width="0.5"/>
<line x1="193.13" y1="197.2" x2="193.13" y2="198" stroke="#444" stroke-width="0.5"/>
<line x1="195.92" y1="197.2" x2="195.92" y2="198" stroke="#444" stroke-width="0.5"/>
<line x1="198.71" y1="197.2" x2="198.71" y2="198" stroke="#444" stroke-width="0.5"/>
<line x1="201.5" y1="197.2" x2="201.5" y2="198" stroke="#444" stroke-width="0.5"/>
<line x1="204.29" y1="197.2" x2="204.29" y2="198" stroke="#444" stroke-width="0.5"/>
<line x1="207.07" y1="197.2" x2="207.07" y2="198" stroke="#444" stroke-width="0.5"/>
<line x1="209.86" y1="197.2" x2="209.86" y2="198" stroke="#444" stroke-width="0.5"/>
<line x1="212.65" y1="197.2" x2="212.65" y2="198" stroke="#444" stroke-width="0.5"/>
<line x1="215.44" y1="197.2" x2="215.44" y2="198" stroke="#444" stroke-width="0.5"/>
<line x1="218.23" y1="197.2" x2="218.23" y2="198" stroke="#444" stroke-width="0.5"/>
<line x1="221.02" y1="197.2" x2="221.02" y2="198" stroke="#444" stroke-width="0.5"/>
<line x1="223.81" y1="197.2" x2="223.81" y2="198" stroke="#444" stroke-width="0.5"/>
<line x1="226.6" y1="197.2" x2="226.6" y2="198" stroke="#444" stroke-width="0.5"/>
<text x="187.7" y="210.2" font-family="Liberation Sans" font-size="4.3" text-anchor="middle" fill="#555" textLength="28.2" lengthAdjust="spacingAndGlyphs">Temperature (°C)</text>
<text transform="translate(140.9,135.9) rotate(-90)" font-family="Liberation Sans" font-size="4.1" text-anchor="middle" fill="#555" textLength="29.4" lengthAdjust="spacingAndGlyphs">Heat flow (μV)</text>
<text x="159.7" y="190.7" font-family="Liberation Serif" font-size="14" fill="#1a1a1a">α</text>
<path d="M168.2,186.6 L179.2,186.6 M175.2,182.3 L179.6,186.6 L175.2,190.9" fill="none" stroke="#1a1a1a" stroke-width="1.15"/>
<text x="181.6" y="190.7" font-family="Liberation Serif" font-size="14" fill="#1a1a1a">ß</text>
<line x1="44.6" y1="178.1" x2="64.2" y2="178.1" stroke="#111" stroke-width="2" stroke-dasharray="4 2.1"/>
<text x="66.3" y="181.7" font-family="Liberation Sans" font-size="10.9" fill="#1a1a1a" stroke="#1a1a1a" stroke-width="0.32" textLength="15.3" lengthAdjust="spacingAndGlyphs">TiH<tspan font-size="7.41" dy="2.7">2</tspan><tspan dy="-2.7"></tspan></text>
<line x1="44.6" y1="193.5" x2="64.2" y2="193.5" stroke="#ff0d0d" stroke-width="1.75"/>
<text x="66.3" y="197.1" font-family="Liberation Sans" font-size="10.9" fill="#1a1a1a" stroke="#1a1a1a" stroke-width="0.32" textLength="31.9" lengthAdjust="spacingAndGlyphs">TiH<tspan font-size="7.41" dy="2.7">2</tspan><tspan dy="-2.7">-5Fe</tspan></text>
<line x1="44.6" y1="208.9" x2="64.2" y2="208.9" stroke="#1010ff" stroke-width="1.75"/>
<text x="66.3" y="212.5" font-family="Liberation Sans" font-size="10.9" fill="#1a1a1a" stroke="#1a1a1a" stroke-width="0.32" textLength="31.9" lengthAdjust="spacingAndGlyphs">TiH<tspan font-size="7.41" dy="2.7">2</tspan><tspan dy="-2.7">-7Fe</tspan></text>
<line x1="445.8" y1="165.5" x2="465" y2="165.5" stroke="#111" stroke-width="2" stroke-dasharray="4.4 1.6"/>
<text x="467.3" y="168.7" font-family="Liberation Sans" font-size="10.3" fill="#1a1a1a" stroke="#1a1a1a" stroke-width="0.32" textLength="15.7" lengthAdjust="spacingAndGlyphs">TiH<tspan font-size="7" dy="2.7">2</tspan><tspan dy="-2.7"></tspan></text>
<line x1="445.8" y1="181" x2="465" y2="181" stroke="#1f87bd" stroke-width="1.8"/>
<text x="467.3" y="184.2" font-family="Liberation Sans" font-size="10.3" fill="#1a1a1a" stroke="#1a1a1a" stroke-width="0.32" textLength="38.3" lengthAdjust="spacingAndGlyphs">TiH<tspan font-size="7" dy="2.7">2</tspan><tspan dy="-2.7">-12Nb</tspan></text>
<line x1="445.8" y1="196.5" x2="465" y2="196.5" stroke="#eec400" stroke-width="1.4"/>
<text x="467.3" y="199.7" font-family="Liberation Sans" font-size="10.3" fill="#1a1a1a" stroke="#1a1a1a" stroke-width="0.32" textLength="38.3" lengthAdjust="spacingAndGlyphs">TiH<tspan font-size="7" dy="2.7">2</tspan><tspan dy="-2.7">-25Nb</tspan></text>
<line x1="445.8" y1="212" x2="465" y2="212" stroke="#d62a3c" stroke-width="1.7"/>
<text x="467.3" y="215.2" font-family="Liberation Sans" font-size="10.3" fill="#1a1a1a" stroke="#1a1a1a" stroke-width="0.32" textLength="38.3" lengthAdjust="spacingAndGlyphs">TiH<tspan font-size="7" dy="2.7">2</tspan><tspan dy="-2.7">-40Nb</tspan></text>
<line x1="162.6" y1="432.7" x2="183.6" y2="432.7" stroke="#111" stroke-width="2.1" stroke-dasharray="7.3 6.1"/>
<text x="183.9" y="435.9" font-family="Liberation Sans" font-size="10" fill="#1a1a1a" stroke="#1a1a1a" stroke-width="0.32" textLength="15.2" lengthAdjust="spacingAndGlyphs">TiH<tspan font-size="6.8" dy="2.7">2</tspan><tspan dy="-2.7"></tspan></text>
<line x1="162.6" y1="448.15" x2="183.6" y2="448.15" stroke="#e6c000" stroke-width="1.5"/>
<text x="183.9" y="451.35" font-family="Liberation Sans" font-size="10" fill="#1a1a1a" stroke="#1a1a1a" stroke-width="0.32" textLength="37.6" lengthAdjust="spacingAndGlyphs">TiH<tspan font-size="6.8" dy="2.7">2</tspan><tspan dy="-2.7">-25Nb</tspan></text>
<line x1="162.6" y1="463.6" x2="183.6" y2="463.6" stroke="#8f10ff" stroke-width="1.8"/>
<text x="183.9" y="466.8" font-family="Liberation Sans" font-size="10" fill="#1a1a1a" stroke="#1a1a1a" stroke-width="0.32" textLength="51.1" lengthAdjust="spacingAndGlyphs">TiH<tspan font-size="6.8" dy="2.7">2</tspan><tspan dy="-2.7">-5Fe25Nb</tspan></text>
<line x1="162.6" y1="479.05" x2="183.6" y2="479.05" stroke="#178c8c" stroke-width="1.8"/>
<text x="183.9" y="482.25" font-family="Liberation Sans" font-size="10" fill="#1a1a1a" stroke="#1a1a1a" stroke-width="0.32" textLength="51.1" lengthAdjust="spacingAndGlyphs">TiH<tspan font-size="6.8" dy="2.7">2</tspan><tspan dy="-2.7">-7Fe25Nb</tspan></text>
<line x1="439.1" y1="435.7" x2="457.7" y2="435.7" stroke="#111" stroke-width="2.1" stroke-dasharray="7.3 6.1"/>
<text x="460.4" y="439.1" font-family="Liberation Sans" font-size="10.2" fill="#1a1a1a" stroke="#1a1a1a" stroke-width="0.32" textLength="15.3" lengthAdjust="spacingAndGlyphs">TiH<tspan font-size="6.94" dy="2.7">2</tspan><tspan dy="-2.7"></tspan></text>
<line x1="439.1" y1="451.05" x2="457.7" y2="451.05" stroke="#e22a12" stroke-width="1.6"/>
<text x="460.4" y="454.45" font-family="Liberation Sans" font-size="10.2" fill="#1a1a1a" stroke="#1a1a1a" stroke-width="0.32" textLength="37" lengthAdjust="spacingAndGlyphs">TiH<tspan font-size="6.94" dy="2.7">2</tspan><tspan dy="-2.7">-40Nb</tspan></text>
<line x1="439.1" y1="466.4" x2="457.7" y2="466.4" stroke="#ff8a00" stroke-width="1.6"/>
<text x="460.4" y="469.8" font-family="Liberation Sans" font-size="10.2" fill="#1a1a1a" stroke="#1a1a1a" stroke-width="0.32" textLength="50.6" lengthAdjust="spacingAndGlyphs">TiH<tspan font-size="6.94" dy="2.7">2</tspan><tspan dy="-2.7">-5Fe40Nb</tspan></text>
<line x1="439.1" y1="481.75" x2="457.7" y2="481.75" stroke="#158c16" stroke-width="1.7"/>
<text x="460.4" y="485.15" font-family="Liberation Sans" font-size="10.2" fill="#1a1a1a" stroke="#1a1a1a" stroke-width="0.32" textLength="50.6" lengthAdjust="spacingAndGlyphs">TiH<tspan font-size="6.94" dy="2.7">2</tspan><tspan dy="-2.7">-7Fe40Nb</tspan></text>
<text transform="translate(17.6,110.5) rotate(-90) scale(0.86,1)" font-family="Liberation Sans" font-size="10.8" font-weight="bold" text-anchor="middle" fill="#111" stroke="#111" stroke-width="0.15" textLength="94.42" lengthAdjust="spacing">Heat flow (μV)</text>
<text transform="translate(287.2,110.9) rotate(-90) scale(0.86,1)" font-family="Liberation Sans" font-size="10.8" font-weight="bold" text-anchor="middle" fill="#111" stroke="#111" stroke-width="0.15" textLength="95.12" lengthAdjust="spacing">Heat flow (μV)</text>
<text transform="translate(17.5,382.7) rotate(-90) scale(0.86,1)" font-family="Liberation Sans" font-size="10.8" font-weight="bold" text-anchor="middle" fill="#111" stroke="#111" stroke-width="0.15" textLength="94.88" lengthAdjust="spacing">Heat flow (μV)</text>
<text transform="translate(294,383.2) rotate(-90) scale(0.86,1)" font-family="Liberation Sans" font-size="10.8" font-weight="bold" text-anchor="middle" fill="#111" stroke="#111" stroke-width="0.15" textLength="94.88" lengthAdjust="spacing">Heat flow (μV)</text>
<g><text x="105.2" y="255.8" font-family="Liberation Sans" font-size="11.7" font-weight="bold" fill="#111" stroke="#111" stroke-width="0.2" textLength="75.6" lengthAdjust="spacingAndGlyphs">Temperature (ºC)</text></g>
<clipPath id="xc373"><rect x="0" y="0" width="523" height="256.9"/></clipPath>
<g clip-path="url(#xc373)"><text x="373.8" y="257.5" font-family="Liberation Sans" font-size="11.7" font-weight="bold" fill="#111" stroke="#111" stroke-width="0.2" textLength="76.1" lengthAdjust="spacingAndGlyphs">Temperature (ºC)</text></g>
<g><text x="104.3" y="528.4" font-family="Liberation Sans" font-size="11.7" font-weight="bold" fill="#111" stroke="#111" stroke-width="0.2" textLength="75.7" lengthAdjust="spacingAndGlyphs">Temperature (ºC)</text></g>
<clipPath id="xc379"><rect x="0" y="0" width="523" height="529.3"/></clipPath>
<g clip-path="url(#xc379)"><text x="379.6" y="529.5" font-family="Liberation Sans" font-size="11.7" font-weight="bold" fill="#111" stroke="#111" stroke-width="0.2" textLength="75" lengthAdjust="spacingAndGlyphs">Temperature (ºC)</text></g>
<text x="121.9" y="270.5" font-family="Liberation Serif" font-size="13.4" font-weight="bold" fill="#222" textLength="13.8" lengthAdjust="spacingAndGlyphs">(a)</text>
<text x="398.6" y="270.4" font-family="Liberation Serif" font-size="13.4" font-weight="bold" fill="#222" textLength="14.9" lengthAdjust="spacingAndGlyphs">(b)</text>
<text x="121.9" y="543.5" font-family="Liberation Serif" font-size="13.4" font-weight="bold" fill="#222" textLength="13.5" lengthAdjust="spacingAndGlyphs">(c)</text>
<text x="398.6" y="543.2" font-family="Liberation Serif" font-size="13.4" font-weight="bold" fill="#222" textLength="14.9" lengthAdjust="spacingAndGlyphs">(d)</text>
<text transform="translate(16.8,31.6) rotate(-90)" font-family="Liberation Sans" font-size="9.3" fill="#2a2a2a" textLength="20.7" lengthAdjust="spacingAndGlyphs">Endo</text>
<line x1="20" y1="11.5" x2="20" y2="29.4" stroke="#9a9a9a" stroke-width="0.8"/>
<path d="M19.05,29 L20.95,29 L20,32.8 Z" fill="#111"/>
<text transform="translate(284.8,32.2) rotate(-90)" font-family="Liberation Sans" font-size="9.3" fill="#2a2a2a" textLength="20.7" lengthAdjust="spacingAndGlyphs">Endo</text>
<line x1="288.3" y1="11.8" x2="288.3" y2="30" stroke="#666" stroke-width="0.8"/>
<path d="M287.35,29.6 L289.25,29.6 L288.3,33.4 Z" fill="#111"/>
<text transform="translate(16.5,304.8) rotate(-90)" font-family="Liberation Sans" font-size="9.3" fill="#2a2a2a" textLength="20.4" lengthAdjust="spacingAndGlyphs">Endo</text>
<line x1="19.8" y1="285" x2="19.8" y2="302" stroke="#bbb" stroke-width="0.8"/>
<path d="M18.85,301.6 L20.75,301.6 L19.8,305.4 Z" fill="#111"/>
<text transform="translate(292.5,304.8) rotate(-90)" font-family="Liberation Sans" font-size="9.3" fill="#2a2a2a" textLength="20.4" lengthAdjust="spacingAndGlyphs">Endo</text>
<line x1="295.8" y1="285" x2="295.8" y2="302" stroke="#bbb" stroke-width="0.8"/>
<path d="M294.85,301.6 L296.75,301.6 L295.8,305.4 Z" fill="#111"/>
</g>
</svg>
</body></html>
